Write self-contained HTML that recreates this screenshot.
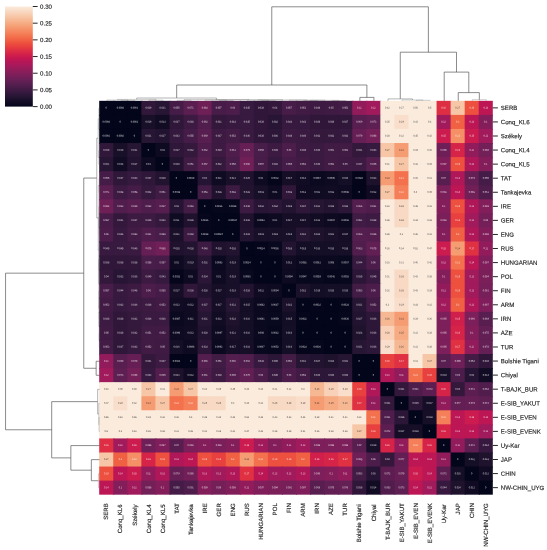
<!DOCTYPE html>
<html lang="en"><head><meta charset="utf-8"><title>Clustermap</title>
<style>html,body{margin:0;padding:0;background:#fff}body{width:547px;height:550px;overflow:hidden}svg{display:block}text{font-family:"Liberation Sans",Arial,sans-serif;text-rendering:geometricPrecision}</style>
</head><body>
<svg width="547" height="550" viewBox="0 0 547 550">
<rect width="547" height="550" fill="#fff"/>
<defs><linearGradient id="cb" x1="0" y1="0" x2="0" y2="1"><stop offset="0.0000" stop-color="#faebdd"/><stop offset="0.0312" stop-color="#f9dfcb"/><stop offset="0.0625" stop-color="#f8d4bc"/><stop offset="0.0938" stop-color="#f7c9aa"/><stop offset="0.1250" stop-color="#f6bc99"/><stop offset="0.1562" stop-color="#f6b089"/><stop offset="0.1875" stop-color="#f6a37a"/><stop offset="0.2188" stop-color="#f5966c"/><stop offset="0.2500" stop-color="#f58860"/><stop offset="0.2812" stop-color="#f47a54"/><stop offset="0.3125" stop-color="#f26b49"/><stop offset="0.3438" stop-color="#f05c42"/><stop offset="0.3750" stop-color="#ec4c3e"/><stop offset="0.4062" stop-color="#e73d3f"/><stop offset="0.4375" stop-color="#df2f44"/><stop offset="0.4688" stop-color="#d62449"/><stop offset="0.5000" stop-color="#cb1b4f"/><stop offset="0.5312" stop-color="#bf1654"/><stop offset="0.5625" stop-color="#b21758"/><stop offset="0.5938" stop-color="#a4195b"/><stop offset="0.6250" stop-color="#971c5b"/><stop offset="0.6562" stop-color="#891e5b"/><stop offset="0.6875" stop-color="#7b1f59"/><stop offset="0.7188" stop-color="#6e1f57"/><stop offset="0.7500" stop-color="#611f53"/><stop offset="0.7812" stop-color="#541e4e"/><stop offset="0.8125" stop-color="#481c48"/><stop offset="0.8438" stop-color="#3c1a42"/><stop offset="0.8750" stop-color="#30173a"/><stop offset="0.9062" stop-color="#241432"/><stop offset="0.9375" stop-color="#180f29"/><stop offset="0.9688" stop-color="#0d0a21"/><stop offset="1.0000" stop-color="#03051a"/></linearGradient></defs>
<rect x="5.00" y="6.50" width="27.80" height="100.10" fill="url(#cb)"/>
<g stroke="#262626" stroke-width="1.0" fill="none">
<path d="M32.80 106.60H37.60"/>
<path d="M32.80 89.92H37.60"/>
<path d="M32.80 73.23H37.60"/>
<path d="M32.80 56.55H37.60"/>
<path d="M32.80 39.87H37.60"/>
<path d="M32.80 23.18H37.60"/>
<path d="M32.80 6.50H37.60"/>
</g>
<g font-size="6.10px" fill="#262626" stroke="#262626" stroke-width="0.15">
<text transform="translate(40.10 108.78) skewY(0.2)">0.00</text>
<text transform="translate(40.10 92.10) skewY(0.2)">0.05</text>
<text transform="translate(40.10 75.42) skewY(0.2)">0.10</text>
<text transform="translate(40.10 58.73) skewY(0.2)">0.15</text>
<text transform="translate(40.10 42.05) skewY(0.2)">0.20</text>
<text transform="translate(40.10 25.37) skewY(0.2)">0.25</text>
<text transform="translate(40.10 8.68) skewY(0.2)">0.30</text>
</g>
<g shape-rendering="auto">
<rect x="99.20" y="100.83" width="15.06" height="15.07" fill="#03051a"/>
<rect x="113.26" y="100.83" width="15.06" height="15.07" fill="#03051a"/>
<rect x="127.31" y="100.83" width="15.06" height="15.07" fill="#03051a"/>
<rect x="141.37" y="100.83" width="15.06" height="15.07" fill="#31183b"/>
<rect x="155.43" y="100.83" width="15.06" height="15.07" fill="#271534"/>
<rect x="169.49" y="100.83" width="15.06" height="15.07" fill="#451c47"/>
<rect x="183.54" y="100.83" width="15.06" height="15.07" fill="#5b1e51"/>
<rect x="197.60" y="100.83" width="15.06" height="15.07" fill="#6d1f56"/>
<rect x="211.66" y="100.83" width="15.06" height="15.07" fill="#481c48"/>
<rect x="225.71" y="100.83" width="15.06" height="15.07" fill="#4c1d4b"/>
<rect x="239.77" y="100.83" width="15.06" height="15.07" fill="#381a40"/>
<rect x="253.83" y="100.83" width="15.06" height="15.07" fill="#30173a"/>
<rect x="267.89" y="100.83" width="15.06" height="15.07" fill="#33183c"/>
<rect x="281.94" y="100.83" width="15.06" height="15.07" fill="#481c48"/>
<rect x="296.00" y="100.83" width="15.06" height="15.07" fill="#421b45"/>
<rect x="310.06" y="100.83" width="15.06" height="15.07" fill="#3c1a42"/>
<rect x="324.11" y="100.83" width="15.06" height="15.07" fill="#3f1b43"/>
<rect x="338.17" y="100.83" width="15.06" height="15.07" fill="#431c46"/>
<rect x="352.23" y="100.83" width="15.06" height="15.07" fill="#921c5b"/>
<rect x="366.29" y="100.83" width="15.06" height="15.07" fill="#a11a5b"/>
<rect x="380.34" y="100.83" width="15.06" height="15.07" fill="#faebdd"/>
<rect x="394.40" y="100.83" width="15.06" height="15.07" fill="#faebdd"/>
<rect x="408.46" y="100.83" width="15.06" height="15.07" fill="#faebdd"/>
<rect x="422.51" y="100.83" width="15.06" height="15.07" fill="#faebdd"/>
<rect x="436.57" y="100.83" width="15.06" height="15.07" fill="#de2e44"/>
<rect x="450.63" y="100.83" width="15.06" height="15.07" fill="#f7c6a6"/>
<rect x="464.69" y="100.83" width="15.06" height="15.07" fill="#ed503e"/>
<rect x="478.74" y="100.83" width="14.06" height="15.07" fill="#bd1655"/>
<rect x="99.20" y="114.90" width="15.06" height="15.07" fill="#03051a"/>
<rect x="113.26" y="114.90" width="15.06" height="15.07" fill="#03051a"/>
<rect x="127.31" y="114.90" width="15.06" height="15.07" fill="#03051a"/>
<rect x="141.37" y="114.90" width="15.06" height="15.07" fill="#180f29"/>
<rect x="155.43" y="114.90" width="15.06" height="15.07" fill="#110c24"/>
<rect x="169.49" y="114.90" width="15.06" height="15.07" fill="#2e1739"/>
<rect x="183.54" y="114.90" width="15.06" height="15.07" fill="#3c1a42"/>
<rect x="197.60" y="114.90" width="15.06" height="15.07" fill="#501d4c"/>
<rect x="211.66" y="114.90" width="15.06" height="15.07" fill="#33183c"/>
<rect x="225.71" y="114.90" width="15.06" height="15.07" fill="#37193f"/>
<rect x="239.77" y="114.90" width="15.06" height="15.07" fill="#381a40"/>
<rect x="253.83" y="114.90" width="15.06" height="15.07" fill="#30173a"/>
<rect x="267.89" y="114.90" width="15.06" height="15.07" fill="#281535"/>
<rect x="281.94" y="114.90" width="15.06" height="15.07" fill="#37193f"/>
<rect x="296.00" y="114.90" width="15.06" height="15.07" fill="#35193e"/>
<rect x="310.06" y="114.90" width="15.06" height="15.07" fill="#30173a"/>
<rect x="324.11" y="114.90" width="15.06" height="15.07" fill="#30173a"/>
<rect x="338.17" y="114.90" width="15.06" height="15.07" fill="#2e1739"/>
<rect x="352.23" y="114.90" width="15.06" height="15.07" fill="#581e4f"/>
<rect x="366.29" y="114.90" width="15.06" height="15.07" fill="#5e1f52"/>
<rect x="380.34" y="114.90" width="15.06" height="15.07" fill="#faebdd"/>
<rect x="394.40" y="114.90" width="15.06" height="15.07" fill="#f9dfcb"/>
<rect x="408.46" y="114.90" width="15.06" height="15.07" fill="#faebdd"/>
<rect x="422.51" y="114.90" width="15.06" height="15.07" fill="#faebdd"/>
<rect x="436.57" y="114.90" width="15.06" height="15.07" fill="#a11a5b"/>
<rect x="450.63" y="114.90" width="15.06" height="15.07" fill="#f06043"/>
<rect x="464.69" y="114.90" width="15.06" height="15.07" fill="#bd1655"/>
<rect x="478.74" y="114.90" width="14.06" height="15.07" fill="#841e5a"/>
<rect x="99.20" y="128.96" width="15.06" height="15.07" fill="#03051a"/>
<rect x="113.26" y="128.96" width="15.06" height="15.07" fill="#03051a"/>
<rect x="127.31" y="128.96" width="15.06" height="15.07" fill="#03051a"/>
<rect x="141.37" y="128.96" width="15.06" height="15.07" fill="#271534"/>
<rect x="155.43" y="128.96" width="15.06" height="15.07" fill="#221331"/>
<rect x="169.49" y="128.96" width="15.06" height="15.07" fill="#35193e"/>
<rect x="183.54" y="128.96" width="15.06" height="15.07" fill="#451c47"/>
<rect x="197.60" y="128.96" width="15.06" height="15.07" fill="#581e4f"/>
<rect x="211.66" y="128.96" width="15.06" height="15.07" fill="#3c1a42"/>
<rect x="225.71" y="128.96" width="15.06" height="15.07" fill="#431c46"/>
<rect x="239.77" y="128.96" width="15.06" height="15.07" fill="#3a1a41"/>
<rect x="253.83" y="128.96" width="15.06" height="15.07" fill="#30173a"/>
<rect x="267.89" y="128.96" width="15.06" height="15.07" fill="#2d1738"/>
<rect x="281.94" y="128.96" width="15.06" height="15.07" fill="#3c1a42"/>
<rect x="296.00" y="128.96" width="15.06" height="15.07" fill="#3a1a41"/>
<rect x="310.06" y="128.96" width="15.06" height="15.07" fill="#34193d"/>
<rect x="324.11" y="128.96" width="15.06" height="15.07" fill="#34193d"/>
<rect x="338.17" y="128.96" width="15.06" height="15.07" fill="#35193e"/>
<rect x="352.23" y="128.96" width="15.06" height="15.07" fill="#661f54"/>
<rect x="366.29" y="128.96" width="15.06" height="15.07" fill="#731f58"/>
<rect x="380.34" y="128.96" width="15.06" height="15.07" fill="#faebdd"/>
<rect x="394.40" y="128.96" width="15.06" height="15.07" fill="#faebdd"/>
<rect x="408.46" y="128.96" width="15.06" height="15.07" fill="#faebdd"/>
<rect x="422.51" y="128.96" width="15.06" height="15.07" fill="#faebdd"/>
<rect x="436.57" y="128.96" width="15.06" height="15.07" fill="#cb1b4f"/>
<rect x="450.63" y="128.96" width="15.06" height="15.07" fill="#f58f66"/>
<rect x="464.69" y="128.96" width="15.06" height="15.07" fill="#cb1b4f"/>
<rect x="478.74" y="128.96" width="14.06" height="15.07" fill="#a11a5b"/>
<rect x="99.20" y="143.03" width="15.06" height="15.07" fill="#31183b"/>
<rect x="113.26" y="143.03" width="15.06" height="15.07" fill="#180f29"/>
<rect x="127.31" y="143.03" width="15.06" height="15.07" fill="#271534"/>
<rect x="141.37" y="143.03" width="15.06" height="15.07" fill="#03051a"/>
<rect x="155.43" y="143.03" width="15.06" height="15.07" fill="#0d0a21"/>
<rect x="169.49" y="143.03" width="15.06" height="15.07" fill="#2e1739"/>
<rect x="183.54" y="143.03" width="15.06" height="15.07" fill="#34193d"/>
<rect x="197.60" y="143.03" width="15.06" height="15.07" fill="#4e1d4b"/>
<rect x="211.66" y="143.03" width="15.06" height="15.07" fill="#3d1a42"/>
<rect x="225.71" y="143.03" width="15.06" height="15.07" fill="#4e1d4b"/>
<rect x="239.77" y="143.03" width="15.06" height="15.07" fill="#661f54"/>
<rect x="253.83" y="143.03" width="15.06" height="15.07" fill="#491d49"/>
<rect x="267.89" y="143.03" width="15.06" height="15.07" fill="#3d1a42"/>
<rect x="281.94" y="143.03" width="15.06" height="15.07" fill="#4c1d4b"/>
<rect x="296.00" y="143.03" width="15.06" height="15.07" fill="#3c1a42"/>
<rect x="310.06" y="143.03" width="15.06" height="15.07" fill="#3a1a41"/>
<rect x="324.11" y="143.03" width="15.06" height="15.07" fill="#401b44"/>
<rect x="338.17" y="143.03" width="15.06" height="15.07" fill="#421b45"/>
<rect x="352.23" y="143.03" width="15.06" height="15.07" fill="#33183c"/>
<rect x="366.29" y="143.03" width="15.06" height="15.07" fill="#35193e"/>
<rect x="380.34" y="143.03" width="15.06" height="15.07" fill="#f7c6a6"/>
<rect x="394.40" y="143.03" width="15.06" height="15.07" fill="#f69c73"/>
<rect x="408.46" y="143.03" width="15.06" height="15.07" fill="#faebdd"/>
<rect x="422.51" y="143.03" width="15.06" height="15.07" fill="#faebdd"/>
<rect x="436.57" y="143.03" width="15.06" height="15.07" fill="#6e1f57"/>
<rect x="450.63" y="143.03" width="15.06" height="15.07" fill="#d62449"/>
<rect x="464.69" y="143.03" width="15.06" height="15.07" fill="#921c5b"/>
<rect x="478.74" y="143.03" width="14.06" height="15.07" fill="#731f58"/>
<rect x="99.20" y="157.09" width="15.06" height="15.07" fill="#271534"/>
<rect x="113.26" y="157.09" width="15.06" height="15.07" fill="#110c24"/>
<rect x="127.31" y="157.09" width="15.06" height="15.07" fill="#221331"/>
<rect x="141.37" y="157.09" width="15.06" height="15.07" fill="#0d0a21"/>
<rect x="155.43" y="157.09" width="15.06" height="15.07" fill="#03051a"/>
<rect x="169.49" y="157.09" width="15.06" height="15.07" fill="#221331"/>
<rect x="183.54" y="157.09" width="15.06" height="15.07" fill="#401b44"/>
<rect x="197.60" y="157.09" width="15.06" height="15.07" fill="#561e4f"/>
<rect x="211.66" y="157.09" width="15.06" height="15.07" fill="#34193d"/>
<rect x="225.71" y="157.09" width="15.06" height="15.07" fill="#491d49"/>
<rect x="239.77" y="157.09" width="15.06" height="15.07" fill="#701f57"/>
<rect x="253.83" y="157.09" width="15.06" height="15.07" fill="#481c48"/>
<rect x="267.89" y="157.09" width="15.06" height="15.07" fill="#35193e"/>
<rect x="281.94" y="157.09" width="15.06" height="15.07" fill="#451c47"/>
<rect x="296.00" y="157.09" width="15.06" height="15.07" fill="#421b45"/>
<rect x="310.06" y="157.09" width="15.06" height="15.07" fill="#3a1a41"/>
<rect x="324.11" y="157.09" width="15.06" height="15.07" fill="#421b45"/>
<rect x="338.17" y="157.09" width="15.06" height="15.07" fill="#3f1b43"/>
<rect x="352.23" y="157.09" width="15.06" height="15.07" fill="#3c1a42"/>
<rect x="366.29" y="157.09" width="15.06" height="15.07" fill="#531e4d"/>
<rect x="380.34" y="157.09" width="15.06" height="15.07" fill="#faebdd"/>
<rect x="394.40" y="157.09" width="15.06" height="15.07" fill="#f7c6a6"/>
<rect x="408.46" y="157.09" width="15.06" height="15.07" fill="#faebdd"/>
<rect x="422.51" y="157.09" width="15.06" height="15.07" fill="#faebdd"/>
<rect x="436.57" y="157.09" width="15.06" height="15.07" fill="#7f1e5a"/>
<rect x="450.63" y="157.09" width="15.06" height="15.07" fill="#ed503e"/>
<rect x="464.69" y="157.09" width="15.06" height="15.07" fill="#af1759"/>
<rect x="478.74" y="157.09" width="14.06" height="15.07" fill="#841e5a"/>
<rect x="99.20" y="171.16" width="15.06" height="15.07" fill="#451c47"/>
<rect x="113.26" y="171.16" width="15.06" height="15.07" fill="#2e1739"/>
<rect x="127.31" y="171.16" width="15.06" height="15.07" fill="#35193e"/>
<rect x="141.37" y="171.16" width="15.06" height="15.07" fill="#2e1739"/>
<rect x="155.43" y="171.16" width="15.06" height="15.07" fill="#221331"/>
<rect x="169.49" y="171.16" width="15.06" height="15.07" fill="#03051a"/>
<rect x="183.54" y="171.16" width="15.06" height="15.07" fill="#04051a"/>
<rect x="197.60" y="171.16" width="15.06" height="15.07" fill="#251433"/>
<rect x="211.66" y="171.16" width="15.06" height="15.07" fill="#0e0b22"/>
<rect x="225.71" y="171.16" width="15.06" height="15.07" fill="#1a102a"/>
<rect x="239.77" y="171.16" width="15.06" height="15.07" fill="#20122e"/>
<rect x="253.83" y="171.16" width="15.06" height="15.07" fill="#0d0a21"/>
<rect x="267.89" y="171.16" width="15.06" height="15.07" fill="#05061b"/>
<rect x="281.94" y="171.16" width="15.06" height="15.07" fill="#160e27"/>
<rect x="296.00" y="171.16" width="15.06" height="15.07" fill="#110c24"/>
<rect x="310.06" y="171.16" width="15.06" height="15.07" fill="#0b0920"/>
<rect x="324.11" y="171.16" width="15.06" height="15.07" fill="#0d0a21"/>
<rect x="338.17" y="171.16" width="15.06" height="15.07" fill="#140e26"/>
<rect x="352.23" y="171.16" width="15.06" height="15.07" fill="#04051a"/>
<rect x="366.29" y="171.16" width="15.06" height="15.07" fill="#1d112c"/>
<rect x="380.34" y="171.16" width="15.06" height="15.07" fill="#f69c73"/>
<rect x="394.40" y="171.16" width="15.06" height="15.07" fill="#f3714d"/>
<rect x="408.46" y="171.16" width="15.06" height="15.07" fill="#faebdd"/>
<rect x="422.51" y="171.16" width="15.06" height="15.07" fill="#faebdd"/>
<rect x="436.57" y="171.16" width="15.06" height="15.07" fill="#591e50"/>
<rect x="450.63" y="171.16" width="15.06" height="15.07" fill="#af1759"/>
<rect x="464.69" y="171.16" width="15.06" height="15.07" fill="#661f54"/>
<rect x="478.74" y="171.16" width="14.06" height="15.07" fill="#451c47"/>
<rect x="99.20" y="185.23" width="15.06" height="15.07" fill="#5b1e51"/>
<rect x="113.26" y="185.23" width="15.06" height="15.07" fill="#3c1a42"/>
<rect x="127.31" y="185.23" width="15.06" height="15.07" fill="#451c47"/>
<rect x="141.37" y="185.23" width="15.06" height="15.07" fill="#34193d"/>
<rect x="155.43" y="185.23" width="15.06" height="15.07" fill="#401b44"/>
<rect x="169.49" y="185.23" width="15.06" height="15.07" fill="#04051a"/>
<rect x="183.54" y="185.23" width="15.06" height="15.07" fill="#03051a"/>
<rect x="197.60" y="185.23" width="15.06" height="15.07" fill="#431c46"/>
<rect x="211.66" y="185.23" width="15.06" height="15.07" fill="#20122e"/>
<rect x="225.71" y="185.23" width="15.06" height="15.07" fill="#3c1a42"/>
<rect x="239.77" y="185.23" width="15.06" height="15.07" fill="#221331"/>
<rect x="253.83" y="185.23" width="15.06" height="15.07" fill="#180f29"/>
<rect x="267.89" y="185.23" width="15.06" height="15.07" fill="#0d0a21"/>
<rect x="281.94" y="185.23" width="15.06" height="15.07" fill="#30173a"/>
<rect x="296.00" y="185.23" width="15.06" height="15.07" fill="#100b23"/>
<rect x="310.06" y="185.23" width="15.06" height="15.07" fill="#0e0b22"/>
<rect x="324.11" y="185.23" width="15.06" height="15.07" fill="#110c24"/>
<rect x="338.17" y="185.23" width="15.06" height="15.07" fill="#0d0a21"/>
<rect x="352.23" y="185.23" width="15.06" height="15.07" fill="#03051a"/>
<rect x="366.29" y="185.23" width="15.06" height="15.07" fill="#100b23"/>
<rect x="380.34" y="185.23" width="15.06" height="15.07" fill="#f7c6a6"/>
<rect x="394.40" y="185.23" width="15.06" height="15.07" fill="#f47f58"/>
<rect x="408.46" y="185.23" width="15.06" height="15.07" fill="#faebdd"/>
<rect x="422.51" y="185.23" width="15.06" height="15.07" fill="#faebdd"/>
<rect x="436.57" y="185.23" width="15.06" height="15.07" fill="#7a1f59"/>
<rect x="450.63" y="185.23" width="15.06" height="15.07" fill="#bd1655"/>
<rect x="464.69" y="185.23" width="15.06" height="15.07" fill="#701f57"/>
<rect x="478.74" y="185.23" width="14.06" height="15.07" fill="#4e1d4b"/>
<rect x="99.20" y="199.29" width="15.06" height="15.07" fill="#6d1f56"/>
<rect x="113.26" y="199.29" width="15.06" height="15.07" fill="#501d4c"/>
<rect x="127.31" y="199.29" width="15.06" height="15.07" fill="#581e4f"/>
<rect x="141.37" y="199.29" width="15.06" height="15.07" fill="#4e1d4b"/>
<rect x="155.43" y="199.29" width="15.06" height="15.07" fill="#561e4f"/>
<rect x="169.49" y="199.29" width="15.06" height="15.07" fill="#251433"/>
<rect x="183.54" y="199.29" width="15.06" height="15.07" fill="#431c46"/>
<rect x="197.60" y="199.29" width="15.06" height="15.07" fill="#03051a"/>
<rect x="211.66" y="199.29" width="15.06" height="15.07" fill="#06071c"/>
<rect x="225.71" y="199.29" width="15.06" height="15.07" fill="#06071c"/>
<rect x="239.77" y="199.29" width="15.06" height="15.07" fill="#3c1a42"/>
<rect x="253.83" y="199.29" width="15.06" height="15.07" fill="#281535"/>
<rect x="267.89" y="199.29" width="15.06" height="15.07" fill="#2b1637"/>
<rect x="281.94" y="199.29" width="15.06" height="15.07" fill="#221331"/>
<rect x="296.00" y="199.29" width="15.06" height="15.07" fill="#2e1739"/>
<rect x="310.06" y="199.29" width="15.06" height="15.07" fill="#271534"/>
<rect x="324.11" y="199.29" width="15.06" height="15.07" fill="#221331"/>
<rect x="338.17" y="199.29" width="15.06" height="15.07" fill="#2b1637"/>
<rect x="352.23" y="199.29" width="15.06" height="15.07" fill="#541e4e"/>
<rect x="366.29" y="199.29" width="15.06" height="15.07" fill="#4e1d4b"/>
<rect x="380.34" y="199.29" width="15.06" height="15.07" fill="#faebdd"/>
<rect x="394.40" y="199.29" width="15.06" height="15.07" fill="#f8d9c3"/>
<rect x="408.46" y="199.29" width="15.06" height="15.07" fill="#faebdd"/>
<rect x="422.51" y="199.29" width="15.06" height="15.07" fill="#faebdd"/>
<rect x="436.57" y="199.29" width="15.06" height="15.07" fill="#841e5a"/>
<rect x="450.63" y="199.29" width="15.06" height="15.07" fill="#ed503e"/>
<rect x="464.69" y="199.29" width="15.06" height="15.07" fill="#af1759"/>
<rect x="478.74" y="199.29" width="14.06" height="15.07" fill="#821e5a"/>
<rect x="99.20" y="213.36" width="15.06" height="15.07" fill="#481c48"/>
<rect x="113.26" y="213.36" width="15.06" height="15.07" fill="#33183c"/>
<rect x="127.31" y="213.36" width="15.06" height="15.07" fill="#3c1a42"/>
<rect x="141.37" y="213.36" width="15.06" height="15.07" fill="#3d1a42"/>
<rect x="155.43" y="213.36" width="15.06" height="15.07" fill="#34193d"/>
<rect x="169.49" y="213.36" width="15.06" height="15.07" fill="#0e0b22"/>
<rect x="183.54" y="213.36" width="15.06" height="15.07" fill="#20122e"/>
<rect x="197.60" y="213.36" width="15.06" height="15.07" fill="#06071c"/>
<rect x="211.66" y="213.36" width="15.06" height="15.07" fill="#03051a"/>
<rect x="225.71" y="213.36" width="15.06" height="15.07" fill="#03051a"/>
<rect x="239.77" y="213.36" width="15.06" height="15.07" fill="#20122e"/>
<rect x="253.83" y="213.36" width="15.06" height="15.07" fill="#0b0920"/>
<rect x="267.89" y="213.36" width="15.06" height="15.07" fill="#0d0a21"/>
<rect x="281.94" y="213.36" width="15.06" height="15.07" fill="#160e27"/>
<rect x="296.00" y="213.36" width="15.06" height="15.07" fill="#160e27"/>
<rect x="310.06" y="213.36" width="15.06" height="15.07" fill="#110c24"/>
<rect x="324.11" y="213.36" width="15.06" height="15.07" fill="#0d0a21"/>
<rect x="338.17" y="213.36" width="15.06" height="15.07" fill="#0b0920"/>
<rect x="352.23" y="213.36" width="15.06" height="15.07" fill="#401b44"/>
<rect x="366.29" y="213.36" width="15.06" height="15.07" fill="#3c1a42"/>
<rect x="380.34" y="213.36" width="15.06" height="15.07" fill="#faebdd"/>
<rect x="394.40" y="213.36" width="15.06" height="15.07" fill="#f8d9c3"/>
<rect x="408.46" y="213.36" width="15.06" height="15.07" fill="#faebdd"/>
<rect x="422.51" y="213.36" width="15.06" height="15.07" fill="#faebdd"/>
<rect x="436.57" y="213.36" width="15.06" height="15.07" fill="#7a1f59"/>
<rect x="450.63" y="213.36" width="15.06" height="15.07" fill="#e83f3f"/>
<rect x="464.69" y="213.36" width="15.06" height="15.07" fill="#a11a5b"/>
<rect x="478.74" y="213.36" width="14.06" height="15.07" fill="#751f58"/>
<rect x="99.20" y="227.42" width="15.06" height="15.07" fill="#4c1d4b"/>
<rect x="113.26" y="227.42" width="15.06" height="15.07" fill="#37193f"/>
<rect x="127.31" y="227.42" width="15.06" height="15.07" fill="#431c46"/>
<rect x="141.37" y="227.42" width="15.06" height="15.07" fill="#4e1d4b"/>
<rect x="155.43" y="227.42" width="15.06" height="15.07" fill="#491d49"/>
<rect x="169.49" y="227.42" width="15.06" height="15.07" fill="#1a102a"/>
<rect x="183.54" y="227.42" width="15.06" height="15.07" fill="#3c1a42"/>
<rect x="197.60" y="227.42" width="15.06" height="15.07" fill="#06071c"/>
<rect x="211.66" y="227.42" width="15.06" height="15.07" fill="#03051a"/>
<rect x="225.71" y="227.42" width="15.06" height="15.07" fill="#03051a"/>
<rect x="239.77" y="227.42" width="15.06" height="15.07" fill="#221331"/>
<rect x="253.83" y="227.42" width="15.06" height="15.07" fill="#180f29"/>
<rect x="267.89" y="227.42" width="15.06" height="15.07" fill="#180f29"/>
<rect x="281.94" y="227.42" width="15.06" height="15.07" fill="#180f29"/>
<rect x="296.00" y="227.42" width="15.06" height="15.07" fill="#271534"/>
<rect x="310.06" y="227.42" width="15.06" height="15.07" fill="#1e122d"/>
<rect x="324.11" y="227.42" width="15.06" height="15.07" fill="#1a102a"/>
<rect x="338.17" y="227.42" width="15.06" height="15.07" fill="#160e27"/>
<rect x="352.23" y="227.42" width="15.06" height="15.07" fill="#541e4e"/>
<rect x="366.29" y="227.42" width="15.06" height="15.07" fill="#531e4d"/>
<rect x="380.34" y="227.42" width="15.06" height="15.07" fill="#faebdd"/>
<rect x="394.40" y="227.42" width="15.06" height="15.07" fill="#faebdd"/>
<rect x="408.46" y="227.42" width="15.06" height="15.07" fill="#faebdd"/>
<rect x="422.51" y="227.42" width="15.06" height="15.07" fill="#faebdd"/>
<rect x="436.57" y="227.42" width="15.06" height="15.07" fill="#841e5a"/>
<rect x="450.63" y="227.42" width="15.06" height="15.07" fill="#f06043"/>
<rect x="464.69" y="227.42" width="15.06" height="15.07" fill="#af1759"/>
<rect x="478.74" y="227.42" width="14.06" height="15.07" fill="#811e5a"/>
<rect x="99.20" y="241.49" width="15.06" height="15.07" fill="#381a40"/>
<rect x="113.26" y="241.49" width="15.06" height="15.07" fill="#381a40"/>
<rect x="127.31" y="241.49" width="15.06" height="15.07" fill="#3a1a41"/>
<rect x="141.37" y="241.49" width="15.06" height="15.07" fill="#661f54"/>
<rect x="155.43" y="241.49" width="15.06" height="15.07" fill="#701f57"/>
<rect x="169.49" y="241.49" width="15.06" height="15.07" fill="#20122e"/>
<rect x="183.54" y="241.49" width="15.06" height="15.07" fill="#221331"/>
<rect x="197.60" y="241.49" width="15.06" height="15.07" fill="#3c1a42"/>
<rect x="211.66" y="241.49" width="15.06" height="15.07" fill="#20122e"/>
<rect x="225.71" y="241.49" width="15.06" height="15.07" fill="#221331"/>
<rect x="239.77" y="241.49" width="15.06" height="15.07" fill="#03051a"/>
<rect x="253.83" y="241.49" width="15.06" height="15.07" fill="#05061b"/>
<rect x="267.89" y="241.49" width="15.06" height="15.07" fill="#08081e"/>
<rect x="281.94" y="241.49" width="15.06" height="15.07" fill="#221331"/>
<rect x="296.00" y="241.49" width="15.06" height="15.07" fill="#130d25"/>
<rect x="310.06" y="241.49" width="15.06" height="15.07" fill="#140e26"/>
<rect x="324.11" y="241.49" width="15.06" height="15.07" fill="#140e26"/>
<rect x="338.17" y="241.49" width="15.06" height="15.07" fill="#170f28"/>
<rect x="352.23" y="241.49" width="15.06" height="15.07" fill="#501d4c"/>
<rect x="366.29" y="241.49" width="15.06" height="15.07" fill="#611f53"/>
<rect x="380.34" y="241.49" width="15.06" height="15.07" fill="#faebdd"/>
<rect x="394.40" y="241.49" width="15.06" height="15.07" fill="#faebdd"/>
<rect x="408.46" y="241.49" width="15.06" height="15.07" fill="#faebdd"/>
<rect x="422.51" y="241.49" width="15.06" height="15.07" fill="#faebdd"/>
<rect x="436.57" y="241.49" width="15.06" height="15.07" fill="#cb1b4f"/>
<rect x="450.63" y="241.49" width="15.06" height="15.07" fill="#f69c73"/>
<rect x="464.69" y="241.49" width="15.06" height="15.07" fill="#e03143"/>
<rect x="478.74" y="241.49" width="14.06" height="15.07" fill="#921c5b"/>
<rect x="99.20" y="255.56" width="15.06" height="15.07" fill="#30173a"/>
<rect x="113.26" y="255.56" width="15.06" height="15.07" fill="#30173a"/>
<rect x="127.31" y="255.56" width="15.06" height="15.07" fill="#30173a"/>
<rect x="141.37" y="255.56" width="15.06" height="15.07" fill="#491d49"/>
<rect x="155.43" y="255.56" width="15.06" height="15.07" fill="#481c48"/>
<rect x="169.49" y="255.56" width="15.06" height="15.07" fill="#0d0a21"/>
<rect x="183.54" y="255.56" width="15.06" height="15.07" fill="#180f29"/>
<rect x="197.60" y="255.56" width="15.06" height="15.07" fill="#281535"/>
<rect x="211.66" y="255.56" width="15.06" height="15.07" fill="#0b0920"/>
<rect x="225.71" y="255.56" width="15.06" height="15.07" fill="#180f29"/>
<rect x="239.77" y="255.56" width="15.06" height="15.07" fill="#05061b"/>
<rect x="253.83" y="255.56" width="15.06" height="15.07" fill="#03051a"/>
<rect x="267.89" y="255.56" width="15.06" height="15.07" fill="#03051a"/>
<rect x="281.94" y="255.56" width="15.06" height="15.07" fill="#100b23"/>
<rect x="296.00" y="255.56" width="15.06" height="15.07" fill="#0a091f"/>
<rect x="310.06" y="255.56" width="15.06" height="15.07" fill="#0a091f"/>
<rect x="324.11" y="255.56" width="15.06" height="15.07" fill="#0a091f"/>
<rect x="338.17" y="255.56" width="15.06" height="15.07" fill="#08081e"/>
<rect x="352.23" y="255.56" width="15.06" height="15.07" fill="#37193f"/>
<rect x="366.29" y="255.56" width="15.06" height="15.07" fill="#4c1d4b"/>
<rect x="380.34" y="255.56" width="15.06" height="15.07" fill="#faebdd"/>
<rect x="394.40" y="255.56" width="15.06" height="15.07" fill="#faebdd"/>
<rect x="408.46" y="255.56" width="15.06" height="15.07" fill="#faebdd"/>
<rect x="422.51" y="255.56" width="15.06" height="15.07" fill="#faebdd"/>
<rect x="436.57" y="255.56" width="15.06" height="15.07" fill="#a11a5b"/>
<rect x="450.63" y="255.56" width="15.06" height="15.07" fill="#f3714d"/>
<rect x="464.69" y="255.56" width="15.06" height="15.07" fill="#bd1655"/>
<rect x="478.74" y="255.56" width="14.06" height="15.07" fill="#7f1e5a"/>
<rect x="99.20" y="269.62" width="15.06" height="15.07" fill="#33183c"/>
<rect x="113.26" y="269.62" width="15.06" height="15.07" fill="#281535"/>
<rect x="127.31" y="269.62" width="15.06" height="15.07" fill="#2d1738"/>
<rect x="141.37" y="269.62" width="15.06" height="15.07" fill="#3d1a42"/>
<rect x="155.43" y="269.62" width="15.06" height="15.07" fill="#35193e"/>
<rect x="169.49" y="269.62" width="15.06" height="15.07" fill="#05061b"/>
<rect x="183.54" y="269.62" width="15.06" height="15.07" fill="#0d0a21"/>
<rect x="197.60" y="269.62" width="15.06" height="15.07" fill="#2b1637"/>
<rect x="211.66" y="269.62" width="15.06" height="15.07" fill="#0d0a21"/>
<rect x="225.71" y="269.62" width="15.06" height="15.07" fill="#180f29"/>
<rect x="239.77" y="269.62" width="15.06" height="15.07" fill="#08081e"/>
<rect x="253.83" y="269.62" width="15.06" height="15.07" fill="#03051a"/>
<rect x="267.89" y="269.62" width="15.06" height="15.07" fill="#03051a"/>
<rect x="281.94" y="269.62" width="15.06" height="15.07" fill="#0d0a21"/>
<rect x="296.00" y="269.62" width="15.06" height="15.07" fill="#07071d"/>
<rect x="310.06" y="269.62" width="15.06" height="15.07" fill="#08081e"/>
<rect x="324.11" y="269.62" width="15.06" height="15.07" fill="#06071c"/>
<rect x="338.17" y="269.62" width="15.06" height="15.07" fill="#07071d"/>
<rect x="352.23" y="269.62" width="15.06" height="15.07" fill="#2b1637"/>
<rect x="366.29" y="269.62" width="15.06" height="15.07" fill="#381a40"/>
<rect x="380.34" y="269.62" width="15.06" height="15.07" fill="#faebdd"/>
<rect x="394.40" y="269.62" width="15.06" height="15.07" fill="#f8d9c3"/>
<rect x="408.46" y="269.62" width="15.06" height="15.07" fill="#faebdd"/>
<rect x="422.51" y="269.62" width="15.06" height="15.07" fill="#faebdd"/>
<rect x="436.57" y="269.62" width="15.06" height="15.07" fill="#841e5a"/>
<rect x="450.63" y="269.62" width="15.06" height="15.07" fill="#ed503e"/>
<rect x="464.69" y="269.62" width="15.06" height="15.07" fill="#a11a5b"/>
<rect x="478.74" y="269.62" width="14.06" height="15.07" fill="#7b1f59"/>
<rect x="99.20" y="283.69" width="15.06" height="15.07" fill="#481c48"/>
<rect x="113.26" y="283.69" width="15.06" height="15.07" fill="#37193f"/>
<rect x="127.31" y="283.69" width="15.06" height="15.07" fill="#3c1a42"/>
<rect x="141.37" y="283.69" width="15.06" height="15.07" fill="#4c1d4b"/>
<rect x="155.43" y="283.69" width="15.06" height="15.07" fill="#451c47"/>
<rect x="169.49" y="283.69" width="15.06" height="15.07" fill="#160e27"/>
<rect x="183.54" y="283.69" width="15.06" height="15.07" fill="#30173a"/>
<rect x="197.60" y="283.69" width="15.06" height="15.07" fill="#221331"/>
<rect x="211.66" y="283.69" width="15.06" height="15.07" fill="#160e27"/>
<rect x="225.71" y="283.69" width="15.06" height="15.07" fill="#180f29"/>
<rect x="239.77" y="283.69" width="15.06" height="15.07" fill="#221331"/>
<rect x="253.83" y="283.69" width="15.06" height="15.07" fill="#100b23"/>
<rect x="267.89" y="283.69" width="15.06" height="15.07" fill="#0d0a21"/>
<rect x="281.94" y="283.69" width="15.06" height="15.07" fill="#03051a"/>
<rect x="296.00" y="283.69" width="15.06" height="15.07" fill="#1b112b"/>
<rect x="310.06" y="283.69" width="15.06" height="15.07" fill="#130d25"/>
<rect x="324.11" y="283.69" width="15.06" height="15.07" fill="#140e26"/>
<rect x="338.17" y="283.69" width="15.06" height="15.07" fill="#140e26"/>
<rect x="352.23" y="283.69" width="15.06" height="15.07" fill="#431c46"/>
<rect x="366.29" y="283.69" width="15.06" height="15.07" fill="#4c1d4b"/>
<rect x="380.34" y="283.69" width="15.06" height="15.07" fill="#faebdd"/>
<rect x="394.40" y="283.69" width="15.06" height="15.07" fill="#f8d9c3"/>
<rect x="408.46" y="283.69" width="15.06" height="15.07" fill="#faebdd"/>
<rect x="422.51" y="283.69" width="15.06" height="15.07" fill="#faebdd"/>
<rect x="436.57" y="283.69" width="15.06" height="15.07" fill="#921c5b"/>
<rect x="450.63" y="283.69" width="15.06" height="15.07" fill="#ed503e"/>
<rect x="464.69" y="283.69" width="15.06" height="15.07" fill="#a11a5b"/>
<rect x="478.74" y="283.69" width="14.06" height="15.07" fill="#761f58"/>
<rect x="99.20" y="297.75" width="15.06" height="15.07" fill="#421b45"/>
<rect x="113.26" y="297.75" width="15.06" height="15.07" fill="#35193e"/>
<rect x="127.31" y="297.75" width="15.06" height="15.07" fill="#3a1a41"/>
<rect x="141.37" y="297.75" width="15.06" height="15.07" fill="#3c1a42"/>
<rect x="155.43" y="297.75" width="15.06" height="15.07" fill="#421b45"/>
<rect x="169.49" y="297.75" width="15.06" height="15.07" fill="#110c24"/>
<rect x="183.54" y="297.75" width="15.06" height="15.07" fill="#100b23"/>
<rect x="197.60" y="297.75" width="15.06" height="15.07" fill="#2e1739"/>
<rect x="211.66" y="297.75" width="15.06" height="15.07" fill="#160e27"/>
<rect x="225.71" y="297.75" width="15.06" height="15.07" fill="#271534"/>
<rect x="239.77" y="297.75" width="15.06" height="15.07" fill="#130d25"/>
<rect x="253.83" y="297.75" width="15.06" height="15.07" fill="#0a091f"/>
<rect x="267.89" y="297.75" width="15.06" height="15.07" fill="#07071d"/>
<rect x="281.94" y="297.75" width="15.06" height="15.07" fill="#1b112b"/>
<rect x="296.00" y="297.75" width="15.06" height="15.07" fill="#03051a"/>
<rect x="310.06" y="297.75" width="15.06" height="15.07" fill="#05061b"/>
<rect x="324.11" y="297.75" width="15.06" height="15.07" fill="#03051a"/>
<rect x="338.17" y="297.75" width="15.06" height="15.07" fill="#05061b"/>
<rect x="352.23" y="297.75" width="15.06" height="15.07" fill="#271534"/>
<rect x="366.29" y="297.75" width="15.06" height="15.07" fill="#421b45"/>
<rect x="380.34" y="297.75" width="15.06" height="15.07" fill="#faebdd"/>
<rect x="394.40" y="297.75" width="15.06" height="15.07" fill="#f9dfcb"/>
<rect x="408.46" y="297.75" width="15.06" height="15.07" fill="#faebdd"/>
<rect x="422.51" y="297.75" width="15.06" height="15.07" fill="#faebdd"/>
<rect x="436.57" y="297.75" width="15.06" height="15.07" fill="#a11a5b"/>
<rect x="450.63" y="297.75" width="15.06" height="15.07" fill="#f06043"/>
<rect x="464.69" y="297.75" width="15.06" height="15.07" fill="#af1759"/>
<rect x="478.74" y="297.75" width="14.06" height="15.07" fill="#7f1e5a"/>
<rect x="99.20" y="311.82" width="15.06" height="15.07" fill="#3c1a42"/>
<rect x="113.26" y="311.82" width="15.06" height="15.07" fill="#30173a"/>
<rect x="127.31" y="311.82" width="15.06" height="15.07" fill="#34193d"/>
<rect x="141.37" y="311.82" width="15.06" height="15.07" fill="#3a1a41"/>
<rect x="155.43" y="311.82" width="15.06" height="15.07" fill="#3a1a41"/>
<rect x="169.49" y="311.82" width="15.06" height="15.07" fill="#0b0920"/>
<rect x="183.54" y="311.82" width="15.06" height="15.07" fill="#0e0b22"/>
<rect x="197.60" y="311.82" width="15.06" height="15.07" fill="#271534"/>
<rect x="211.66" y="311.82" width="15.06" height="15.07" fill="#110c24"/>
<rect x="225.71" y="311.82" width="15.06" height="15.07" fill="#1e122d"/>
<rect x="239.77" y="311.82" width="15.06" height="15.07" fill="#140e26"/>
<rect x="253.83" y="311.82" width="15.06" height="15.07" fill="#0a091f"/>
<rect x="267.89" y="311.82" width="15.06" height="15.07" fill="#08081e"/>
<rect x="281.94" y="311.82" width="15.06" height="15.07" fill="#130d25"/>
<rect x="296.00" y="311.82" width="15.06" height="15.07" fill="#05061b"/>
<rect x="310.06" y="311.82" width="15.06" height="15.07" fill="#03051a"/>
<rect x="324.11" y="311.82" width="15.06" height="15.07" fill="#03051a"/>
<rect x="338.17" y="311.82" width="15.06" height="15.07" fill="#06071c"/>
<rect x="352.23" y="311.82" width="15.06" height="15.07" fill="#221331"/>
<rect x="366.29" y="311.82" width="15.06" height="15.07" fill="#2d1738"/>
<rect x="380.34" y="311.82" width="15.06" height="15.07" fill="#f6b893"/>
<rect x="394.40" y="311.82" width="15.06" height="15.07" fill="#f69c73"/>
<rect x="408.46" y="311.82" width="15.06" height="15.07" fill="#faebdd"/>
<rect x="422.51" y="311.82" width="15.06" height="15.07" fill="#faebdd"/>
<rect x="436.57" y="311.82" width="15.06" height="15.07" fill="#7d1f5a"/>
<rect x="450.63" y="311.82" width="15.06" height="15.07" fill="#d11f4c"/>
<rect x="464.69" y="311.82" width="15.06" height="15.07" fill="#7d1f5a"/>
<rect x="478.74" y="311.82" width="14.06" height="15.07" fill="#581e4f"/>
<rect x="99.20" y="325.89" width="15.06" height="15.07" fill="#3f1b43"/>
<rect x="113.26" y="325.89" width="15.06" height="15.07" fill="#30173a"/>
<rect x="127.31" y="325.89" width="15.06" height="15.07" fill="#34193d"/>
<rect x="141.37" y="325.89" width="15.06" height="15.07" fill="#401b44"/>
<rect x="155.43" y="325.89" width="15.06" height="15.07" fill="#421b45"/>
<rect x="169.49" y="325.89" width="15.06" height="15.07" fill="#0d0a21"/>
<rect x="183.54" y="325.89" width="15.06" height="15.07" fill="#110c24"/>
<rect x="197.60" y="325.89" width="15.06" height="15.07" fill="#221331"/>
<rect x="211.66" y="325.89" width="15.06" height="15.07" fill="#0d0a21"/>
<rect x="225.71" y="325.89" width="15.06" height="15.07" fill="#1a102a"/>
<rect x="239.77" y="325.89" width="15.06" height="15.07" fill="#140e26"/>
<rect x="253.83" y="325.89" width="15.06" height="15.07" fill="#0a091f"/>
<rect x="267.89" y="325.89" width="15.06" height="15.07" fill="#06071c"/>
<rect x="281.94" y="325.89" width="15.06" height="15.07" fill="#140e26"/>
<rect x="296.00" y="325.89" width="15.06" height="15.07" fill="#03051a"/>
<rect x="310.06" y="325.89" width="15.06" height="15.07" fill="#03051a"/>
<rect x="324.11" y="325.89" width="15.06" height="15.07" fill="#03051a"/>
<rect x="338.17" y="325.89" width="15.06" height="15.07" fill="#03051a"/>
<rect x="352.23" y="325.89" width="15.06" height="15.07" fill="#1e122d"/>
<rect x="366.29" y="325.89" width="15.06" height="15.07" fill="#2d1738"/>
<rect x="380.34" y="325.89" width="15.06" height="15.07" fill="#f8d1b8"/>
<rect x="394.40" y="325.89" width="15.06" height="15.07" fill="#f6ab83"/>
<rect x="408.46" y="325.89" width="15.06" height="15.07" fill="#faebdd"/>
<rect x="422.51" y="325.89" width="15.06" height="15.07" fill="#faebdd"/>
<rect x="436.57" y="325.89" width="15.06" height="15.07" fill="#7d1f5a"/>
<rect x="450.63" y="325.89" width="15.06" height="15.07" fill="#d62449"/>
<rect x="464.69" y="325.89" width="15.06" height="15.07" fill="#841e5a"/>
<rect x="478.74" y="325.89" width="14.06" height="15.07" fill="#611f53"/>
<rect x="99.20" y="339.95" width="15.06" height="15.07" fill="#431c46"/>
<rect x="113.26" y="339.95" width="15.06" height="15.07" fill="#2e1739"/>
<rect x="127.31" y="339.95" width="15.06" height="15.07" fill="#35193e"/>
<rect x="141.37" y="339.95" width="15.06" height="15.07" fill="#421b45"/>
<rect x="155.43" y="339.95" width="15.06" height="15.07" fill="#3f1b43"/>
<rect x="169.49" y="339.95" width="15.06" height="15.07" fill="#140e26"/>
<rect x="183.54" y="339.95" width="15.06" height="15.07" fill="#0d0a21"/>
<rect x="197.60" y="339.95" width="15.06" height="15.07" fill="#2b1637"/>
<rect x="211.66" y="339.95" width="15.06" height="15.07" fill="#0b0920"/>
<rect x="225.71" y="339.95" width="15.06" height="15.07" fill="#160e27"/>
<rect x="239.77" y="339.95" width="15.06" height="15.07" fill="#170f28"/>
<rect x="253.83" y="339.95" width="15.06" height="15.07" fill="#08081e"/>
<rect x="267.89" y="339.95" width="15.06" height="15.07" fill="#07071d"/>
<rect x="281.94" y="339.95" width="15.06" height="15.07" fill="#140e26"/>
<rect x="296.00" y="339.95" width="15.06" height="15.07" fill="#05061b"/>
<rect x="310.06" y="339.95" width="15.06" height="15.07" fill="#06071c"/>
<rect x="324.11" y="339.95" width="15.06" height="15.07" fill="#03051a"/>
<rect x="338.17" y="339.95" width="15.06" height="15.07" fill="#03051a"/>
<rect x="352.23" y="339.95" width="15.06" height="15.07" fill="#271534"/>
<rect x="366.29" y="339.95" width="15.06" height="15.07" fill="#2d1738"/>
<rect x="380.34" y="339.95" width="15.06" height="15.07" fill="#f9dfcb"/>
<rect x="394.40" y="339.95" width="15.06" height="15.07" fill="#f6b893"/>
<rect x="408.46" y="339.95" width="15.06" height="15.07" fill="#faebdd"/>
<rect x="422.51" y="339.95" width="15.06" height="15.07" fill="#faebdd"/>
<rect x="436.57" y="339.95" width="15.06" height="15.07" fill="#7d1f5a"/>
<rect x="450.63" y="339.95" width="15.06" height="15.07" fill="#e03143"/>
<rect x="464.69" y="339.95" width="15.06" height="15.07" fill="#921c5b"/>
<rect x="478.74" y="339.95" width="14.06" height="15.07" fill="#641f54"/>
<rect x="99.20" y="354.02" width="15.06" height="15.07" fill="#921c5b"/>
<rect x="113.26" y="354.02" width="15.06" height="15.07" fill="#581e4f"/>
<rect x="127.31" y="354.02" width="15.06" height="15.07" fill="#661f54"/>
<rect x="141.37" y="354.02" width="15.06" height="15.07" fill="#33183c"/>
<rect x="155.43" y="354.02" width="15.06" height="15.07" fill="#3c1a42"/>
<rect x="169.49" y="354.02" width="15.06" height="15.07" fill="#04051a"/>
<rect x="183.54" y="354.02" width="15.06" height="15.07" fill="#03051a"/>
<rect x="197.60" y="354.02" width="15.06" height="15.07" fill="#541e4e"/>
<rect x="211.66" y="354.02" width="15.06" height="15.07" fill="#401b44"/>
<rect x="225.71" y="354.02" width="15.06" height="15.07" fill="#541e4e"/>
<rect x="239.77" y="354.02" width="15.06" height="15.07" fill="#501d4c"/>
<rect x="253.83" y="354.02" width="15.06" height="15.07" fill="#37193f"/>
<rect x="267.89" y="354.02" width="15.06" height="15.07" fill="#2b1637"/>
<rect x="281.94" y="354.02" width="15.06" height="15.07" fill="#431c46"/>
<rect x="296.00" y="354.02" width="15.06" height="15.07" fill="#271534"/>
<rect x="310.06" y="354.02" width="15.06" height="15.07" fill="#221331"/>
<rect x="324.11" y="354.02" width="15.06" height="15.07" fill="#1e122d"/>
<rect x="338.17" y="354.02" width="15.06" height="15.07" fill="#271534"/>
<rect x="352.23" y="354.02" width="15.06" height="15.07" fill="#03051a"/>
<rect x="366.29" y="354.02" width="15.06" height="15.07" fill="#03051a"/>
<rect x="380.34" y="354.02" width="15.06" height="15.07" fill="#e83f3f"/>
<rect x="394.40" y="354.02" width="15.06" height="15.07" fill="#e03143"/>
<rect x="408.46" y="354.02" width="15.06" height="15.07" fill="#faebdd"/>
<rect x="422.51" y="354.02" width="15.06" height="15.07" fill="#f7c6a6"/>
<rect x="436.57" y="354.02" width="15.06" height="15.07" fill="#591e50"/>
<rect x="450.63" y="354.02" width="15.06" height="15.07" fill="#6e1f57"/>
<rect x="464.69" y="354.02" width="15.06" height="15.07" fill="#431c46"/>
<rect x="478.74" y="354.02" width="14.06" height="15.07" fill="#30173a"/>
<rect x="99.20" y="368.09" width="15.06" height="15.07" fill="#a11a5b"/>
<rect x="113.26" y="368.09" width="15.06" height="15.07" fill="#5e1f52"/>
<rect x="127.31" y="368.09" width="15.06" height="15.07" fill="#731f58"/>
<rect x="141.37" y="368.09" width="15.06" height="15.07" fill="#35193e"/>
<rect x="155.43" y="368.09" width="15.06" height="15.07" fill="#531e4d"/>
<rect x="169.49" y="368.09" width="15.06" height="15.07" fill="#1d112c"/>
<rect x="183.54" y="368.09" width="15.06" height="15.07" fill="#100b23"/>
<rect x="197.60" y="368.09" width="15.06" height="15.07" fill="#4e1d4b"/>
<rect x="211.66" y="368.09" width="15.06" height="15.07" fill="#3c1a42"/>
<rect x="225.71" y="368.09" width="15.06" height="15.07" fill="#531e4d"/>
<rect x="239.77" y="368.09" width="15.06" height="15.07" fill="#611f53"/>
<rect x="253.83" y="368.09" width="15.06" height="15.07" fill="#4c1d4b"/>
<rect x="267.89" y="368.09" width="15.06" height="15.07" fill="#381a40"/>
<rect x="281.94" y="368.09" width="15.06" height="15.07" fill="#4c1d4b"/>
<rect x="296.00" y="368.09" width="15.06" height="15.07" fill="#421b45"/>
<rect x="310.06" y="368.09" width="15.06" height="15.07" fill="#2d1738"/>
<rect x="324.11" y="368.09" width="15.06" height="15.07" fill="#2d1738"/>
<rect x="338.17" y="368.09" width="15.06" height="15.07" fill="#2d1738"/>
<rect x="352.23" y="368.09" width="15.06" height="15.07" fill="#03051a"/>
<rect x="366.29" y="368.09" width="15.06" height="15.07" fill="#03051a"/>
<rect x="380.34" y="368.09" width="15.06" height="15.07" fill="#af1759"/>
<rect x="394.40" y="368.09" width="15.06" height="15.07" fill="#921c5b"/>
<rect x="408.46" y="368.09" width="15.06" height="15.07" fill="#f3714d"/>
<rect x="422.51" y="368.09" width="15.06" height="15.07" fill="#e83f3f"/>
<rect x="436.57" y="368.09" width="15.06" height="15.07" fill="#180f29"/>
<rect x="450.63" y="368.09" width="15.06" height="15.07" fill="#4c1d4b"/>
<rect x="464.69" y="368.09" width="15.06" height="15.07" fill="#251433"/>
<rect x="478.74" y="368.09" width="14.06" height="15.07" fill="#110c24"/>
<rect x="99.20" y="382.15" width="15.06" height="15.07" fill="#faebdd"/>
<rect x="113.26" y="382.15" width="15.06" height="15.07" fill="#faebdd"/>
<rect x="127.31" y="382.15" width="15.06" height="15.07" fill="#faebdd"/>
<rect x="141.37" y="382.15" width="15.06" height="15.07" fill="#f7c6a6"/>
<rect x="155.43" y="382.15" width="15.06" height="15.07" fill="#faebdd"/>
<rect x="169.49" y="382.15" width="15.06" height="15.07" fill="#f69c73"/>
<rect x="183.54" y="382.15" width="15.06" height="15.07" fill="#f7c6a6"/>
<rect x="197.60" y="382.15" width="15.06" height="15.07" fill="#faebdd"/>
<rect x="211.66" y="382.15" width="15.06" height="15.07" fill="#faebdd"/>
<rect x="225.71" y="382.15" width="15.06" height="15.07" fill="#faebdd"/>
<rect x="239.77" y="382.15" width="15.06" height="15.07" fill="#faebdd"/>
<rect x="253.83" y="382.15" width="15.06" height="15.07" fill="#faebdd"/>
<rect x="267.89" y="382.15" width="15.06" height="15.07" fill="#faebdd"/>
<rect x="281.94" y="382.15" width="15.06" height="15.07" fill="#faebdd"/>
<rect x="296.00" y="382.15" width="15.06" height="15.07" fill="#faebdd"/>
<rect x="310.06" y="382.15" width="15.06" height="15.07" fill="#f6b893"/>
<rect x="324.11" y="382.15" width="15.06" height="15.07" fill="#f8d1b8"/>
<rect x="338.17" y="382.15" width="15.06" height="15.07" fill="#f9dfcb"/>
<rect x="352.23" y="382.15" width="15.06" height="15.07" fill="#e83f3f"/>
<rect x="366.29" y="382.15" width="15.06" height="15.07" fill="#af1759"/>
<rect x="380.34" y="382.15" width="15.06" height="15.07" fill="#03051a"/>
<rect x="394.40" y="382.15" width="15.06" height="15.07" fill="#33183c"/>
<rect x="408.46" y="382.15" width="15.06" height="15.07" fill="#4e1d4b"/>
<rect x="422.51" y="382.15" width="15.06" height="15.07" fill="#5c1e51"/>
<rect x="436.57" y="382.15" width="15.06" height="15.07" fill="#d62449"/>
<rect x="450.63" y="382.15" width="15.06" height="15.07" fill="#33183c"/>
<rect x="464.69" y="382.15" width="15.06" height="15.07" fill="#5c1e51"/>
<rect x="478.74" y="382.15" width="14.06" height="15.07" fill="#501d4c"/>
<rect x="99.20" y="396.22" width="15.06" height="15.07" fill="#faebdd"/>
<rect x="113.26" y="396.22" width="15.06" height="15.07" fill="#f9dfcb"/>
<rect x="127.31" y="396.22" width="15.06" height="15.07" fill="#faebdd"/>
<rect x="141.37" y="396.22" width="15.06" height="15.07" fill="#f69c73"/>
<rect x="155.43" y="396.22" width="15.06" height="15.07" fill="#f7c6a6"/>
<rect x="169.49" y="396.22" width="15.06" height="15.07" fill="#f3714d"/>
<rect x="183.54" y="396.22" width="15.06" height="15.07" fill="#f47f58"/>
<rect x="197.60" y="396.22" width="15.06" height="15.07" fill="#f8d9c3"/>
<rect x="211.66" y="396.22" width="15.06" height="15.07" fill="#f8d9c3"/>
<rect x="225.71" y="396.22" width="15.06" height="15.07" fill="#faebdd"/>
<rect x="239.77" y="396.22" width="15.06" height="15.07" fill="#faebdd"/>
<rect x="253.83" y="396.22" width="15.06" height="15.07" fill="#faebdd"/>
<rect x="267.89" y="396.22" width="15.06" height="15.07" fill="#f8d9c3"/>
<rect x="281.94" y="396.22" width="15.06" height="15.07" fill="#f8d9c3"/>
<rect x="296.00" y="396.22" width="15.06" height="15.07" fill="#f9dfcb"/>
<rect x="310.06" y="396.22" width="15.06" height="15.07" fill="#f69c73"/>
<rect x="324.11" y="396.22" width="15.06" height="15.07" fill="#f6ab83"/>
<rect x="338.17" y="396.22" width="15.06" height="15.07" fill="#f6b893"/>
<rect x="352.23" y="396.22" width="15.06" height="15.07" fill="#e03143"/>
<rect x="366.29" y="396.22" width="15.06" height="15.07" fill="#921c5b"/>
<rect x="380.34" y="396.22" width="15.06" height="15.07" fill="#33183c"/>
<rect x="394.40" y="396.22" width="15.06" height="15.07" fill="#03051a"/>
<rect x="408.46" y="396.22" width="15.06" height="15.07" fill="#2b1637"/>
<rect x="422.51" y="396.22" width="15.06" height="15.07" fill="#160e27"/>
<rect x="436.57" y="396.22" width="15.06" height="15.07" fill="#921c5b"/>
<rect x="450.63" y="396.22" width="15.06" height="15.07" fill="#631f53"/>
<rect x="464.69" y="396.22" width="15.06" height="15.07" fill="#661f54"/>
<rect x="478.74" y="396.22" width="14.06" height="15.07" fill="#5e1f52"/>
<rect x="99.20" y="410.28" width="15.06" height="15.07" fill="#faebdd"/>
<rect x="113.26" y="410.28" width="15.06" height="15.07" fill="#faebdd"/>
<rect x="127.31" y="410.28" width="15.06" height="15.07" fill="#faebdd"/>
<rect x="141.37" y="410.28" width="15.06" height="15.07" fill="#faebdd"/>
<rect x="155.43" y="410.28" width="15.06" height="15.07" fill="#faebdd"/>
<rect x="169.49" y="410.28" width="15.06" height="15.07" fill="#faebdd"/>
<rect x="183.54" y="410.28" width="15.06" height="15.07" fill="#faebdd"/>
<rect x="197.60" y="410.28" width="15.06" height="15.07" fill="#faebdd"/>
<rect x="211.66" y="410.28" width="15.06" height="15.07" fill="#faebdd"/>
<rect x="225.71" y="410.28" width="15.06" height="15.07" fill="#faebdd"/>
<rect x="239.77" y="410.28" width="15.06" height="15.07" fill="#faebdd"/>
<rect x="253.83" y="410.28" width="15.06" height="15.07" fill="#faebdd"/>
<rect x="267.89" y="410.28" width="15.06" height="15.07" fill="#faebdd"/>
<rect x="281.94" y="410.28" width="15.06" height="15.07" fill="#faebdd"/>
<rect x="296.00" y="410.28" width="15.06" height="15.07" fill="#faebdd"/>
<rect x="310.06" y="410.28" width="15.06" height="15.07" fill="#faebdd"/>
<rect x="324.11" y="410.28" width="15.06" height="15.07" fill="#faebdd"/>
<rect x="338.17" y="410.28" width="15.06" height="15.07" fill="#faebdd"/>
<rect x="352.23" y="410.28" width="15.06" height="15.07" fill="#faebdd"/>
<rect x="366.29" y="410.28" width="15.06" height="15.07" fill="#f3714d"/>
<rect x="380.34" y="410.28" width="15.06" height="15.07" fill="#4e1d4b"/>
<rect x="394.40" y="410.28" width="15.06" height="15.07" fill="#2b1637"/>
<rect x="408.46" y="410.28" width="15.06" height="15.07" fill="#03051a"/>
<rect x="422.51" y="410.28" width="15.06" height="15.07" fill="#170f28"/>
<rect x="436.57" y="410.28" width="15.06" height="15.07" fill="#f47f58"/>
<rect x="450.63" y="410.28" width="15.06" height="15.07" fill="#bd1655"/>
<rect x="464.69" y="410.28" width="15.06" height="15.07" fill="#cb1b4f"/>
<rect x="478.74" y="410.28" width="14.06" height="15.07" fill="#bd1655"/>
<rect x="99.20" y="424.35" width="15.06" height="15.07" fill="#faebdd"/>
<rect x="113.26" y="424.35" width="15.06" height="15.07" fill="#faebdd"/>
<rect x="127.31" y="424.35" width="15.06" height="15.07" fill="#faebdd"/>
<rect x="141.37" y="424.35" width="15.06" height="15.07" fill="#faebdd"/>
<rect x="155.43" y="424.35" width="15.06" height="15.07" fill="#faebdd"/>
<rect x="169.49" y="424.35" width="15.06" height="15.07" fill="#faebdd"/>
<rect x="183.54" y="424.35" width="15.06" height="15.07" fill="#faebdd"/>
<rect x="197.60" y="424.35" width="15.06" height="15.07" fill="#faebdd"/>
<rect x="211.66" y="424.35" width="15.06" height="15.07" fill="#faebdd"/>
<rect x="225.71" y="424.35" width="15.06" height="15.07" fill="#faebdd"/>
<rect x="239.77" y="424.35" width="15.06" height="15.07" fill="#faebdd"/>
<rect x="253.83" y="424.35" width="15.06" height="15.07" fill="#faebdd"/>
<rect x="267.89" y="424.35" width="15.06" height="15.07" fill="#faebdd"/>
<rect x="281.94" y="424.35" width="15.06" height="15.07" fill="#faebdd"/>
<rect x="296.00" y="424.35" width="15.06" height="15.07" fill="#faebdd"/>
<rect x="310.06" y="424.35" width="15.06" height="15.07" fill="#faebdd"/>
<rect x="324.11" y="424.35" width="15.06" height="15.07" fill="#faebdd"/>
<rect x="338.17" y="424.35" width="15.06" height="15.07" fill="#faebdd"/>
<rect x="352.23" y="424.35" width="15.06" height="15.07" fill="#f7c6a6"/>
<rect x="366.29" y="424.35" width="15.06" height="15.07" fill="#e83f3f"/>
<rect x="380.34" y="424.35" width="15.06" height="15.07" fill="#5c1e51"/>
<rect x="394.40" y="424.35" width="15.06" height="15.07" fill="#160e27"/>
<rect x="408.46" y="424.35" width="15.06" height="15.07" fill="#170f28"/>
<rect x="422.51" y="424.35" width="15.06" height="15.07" fill="#03051a"/>
<rect x="436.57" y="424.35" width="15.06" height="15.07" fill="#d62449"/>
<rect x="450.63" y="424.35" width="15.06" height="15.07" fill="#bd1655"/>
<rect x="464.69" y="424.35" width="15.06" height="15.07" fill="#bd1655"/>
<rect x="478.74" y="424.35" width="14.06" height="15.07" fill="#a11a5b"/>
<rect x="99.20" y="438.42" width="15.06" height="15.07" fill="#de2e44"/>
<rect x="113.26" y="438.42" width="15.06" height="15.07" fill="#a11a5b"/>
<rect x="127.31" y="438.42" width="15.06" height="15.07" fill="#cb1b4f"/>
<rect x="141.37" y="438.42" width="15.06" height="15.07" fill="#6e1f57"/>
<rect x="155.43" y="438.42" width="15.06" height="15.07" fill="#7f1e5a"/>
<rect x="169.49" y="438.42" width="15.06" height="15.07" fill="#591e50"/>
<rect x="183.54" y="438.42" width="15.06" height="15.07" fill="#7a1f59"/>
<rect x="197.60" y="438.42" width="15.06" height="15.07" fill="#841e5a"/>
<rect x="211.66" y="438.42" width="15.06" height="15.07" fill="#7a1f59"/>
<rect x="225.71" y="438.42" width="15.06" height="15.07" fill="#841e5a"/>
<rect x="239.77" y="438.42" width="15.06" height="15.07" fill="#cb1b4f"/>
<rect x="253.83" y="438.42" width="15.06" height="15.07" fill="#a11a5b"/>
<rect x="267.89" y="438.42" width="15.06" height="15.07" fill="#841e5a"/>
<rect x="281.94" y="438.42" width="15.06" height="15.07" fill="#921c5b"/>
<rect x="296.00" y="438.42" width="15.06" height="15.07" fill="#a11a5b"/>
<rect x="310.06" y="438.42" width="15.06" height="15.07" fill="#7d1f5a"/>
<rect x="324.11" y="438.42" width="15.06" height="15.07" fill="#7d1f5a"/>
<rect x="338.17" y="438.42" width="15.06" height="15.07" fill="#7d1f5a"/>
<rect x="352.23" y="438.42" width="15.06" height="15.07" fill="#591e50"/>
<rect x="366.29" y="438.42" width="15.06" height="15.07" fill="#180f29"/>
<rect x="380.34" y="438.42" width="15.06" height="15.07" fill="#d62449"/>
<rect x="394.40" y="438.42" width="15.06" height="15.07" fill="#921c5b"/>
<rect x="408.46" y="438.42" width="15.06" height="15.07" fill="#f47f58"/>
<rect x="422.51" y="438.42" width="15.06" height="15.07" fill="#d62449"/>
<rect x="436.57" y="438.42" width="15.06" height="15.07" fill="#03051a"/>
<rect x="450.63" y="438.42" width="15.06" height="15.07" fill="#921c5b"/>
<rect x="464.69" y="438.42" width="15.06" height="15.07" fill="#5c1e51"/>
<rect x="478.74" y="438.42" width="14.06" height="15.07" fill="#37193f"/>
<rect x="99.20" y="452.48" width="15.06" height="15.07" fill="#f7c6a6"/>
<rect x="113.26" y="452.48" width="15.06" height="15.07" fill="#f06043"/>
<rect x="127.31" y="452.48" width="15.06" height="15.07" fill="#f58f66"/>
<rect x="141.37" y="452.48" width="15.06" height="15.07" fill="#d62449"/>
<rect x="155.43" y="452.48" width="15.06" height="15.07" fill="#ed503e"/>
<rect x="169.49" y="452.48" width="15.06" height="15.07" fill="#af1759"/>
<rect x="183.54" y="452.48" width="15.06" height="15.07" fill="#bd1655"/>
<rect x="197.60" y="452.48" width="15.06" height="15.07" fill="#ed503e"/>
<rect x="211.66" y="452.48" width="15.06" height="15.07" fill="#e83f3f"/>
<rect x="225.71" y="452.48" width="15.06" height="15.07" fill="#f06043"/>
<rect x="239.77" y="452.48" width="15.06" height="15.07" fill="#f69c73"/>
<rect x="253.83" y="452.48" width="15.06" height="15.07" fill="#f3714d"/>
<rect x="267.89" y="452.48" width="15.06" height="15.07" fill="#ed503e"/>
<rect x="281.94" y="452.48" width="15.06" height="15.07" fill="#ed503e"/>
<rect x="296.00" y="452.48" width="15.06" height="15.07" fill="#f06043"/>
<rect x="310.06" y="452.48" width="15.06" height="15.07" fill="#d11f4c"/>
<rect x="324.11" y="452.48" width="15.06" height="15.07" fill="#d62449"/>
<rect x="338.17" y="452.48" width="15.06" height="15.07" fill="#e03143"/>
<rect x="352.23" y="452.48" width="15.06" height="15.07" fill="#6e1f57"/>
<rect x="366.29" y="452.48" width="15.06" height="15.07" fill="#4c1d4b"/>
<rect x="380.34" y="452.48" width="15.06" height="15.07" fill="#33183c"/>
<rect x="394.40" y="452.48" width="15.06" height="15.07" fill="#631f53"/>
<rect x="408.46" y="452.48" width="15.06" height="15.07" fill="#bd1655"/>
<rect x="422.51" y="452.48" width="15.06" height="15.07" fill="#bd1655"/>
<rect x="436.57" y="452.48" width="15.06" height="15.07" fill="#921c5b"/>
<rect x="450.63" y="452.48" width="15.06" height="15.07" fill="#03051a"/>
<rect x="464.69" y="452.48" width="15.06" height="15.07" fill="#140e26"/>
<rect x="478.74" y="452.48" width="14.06" height="15.07" fill="#1e122d"/>
<rect x="99.20" y="466.55" width="15.06" height="15.07" fill="#ed503e"/>
<rect x="113.26" y="466.55" width="15.06" height="15.07" fill="#bd1655"/>
<rect x="127.31" y="466.55" width="15.06" height="15.07" fill="#cb1b4f"/>
<rect x="141.37" y="466.55" width="15.06" height="15.07" fill="#921c5b"/>
<rect x="155.43" y="466.55" width="15.06" height="15.07" fill="#af1759"/>
<rect x="169.49" y="466.55" width="15.06" height="15.07" fill="#661f54"/>
<rect x="183.54" y="466.55" width="15.06" height="15.07" fill="#701f57"/>
<rect x="197.60" y="466.55" width="15.06" height="15.07" fill="#af1759"/>
<rect x="211.66" y="466.55" width="15.06" height="15.07" fill="#a11a5b"/>
<rect x="225.71" y="466.55" width="15.06" height="15.07" fill="#af1759"/>
<rect x="239.77" y="466.55" width="15.06" height="15.07" fill="#e03143"/>
<rect x="253.83" y="466.55" width="15.06" height="15.07" fill="#bd1655"/>
<rect x="267.89" y="466.55" width="15.06" height="15.07" fill="#a11a5b"/>
<rect x="281.94" y="466.55" width="15.06" height="15.07" fill="#a11a5b"/>
<rect x="296.00" y="466.55" width="15.06" height="15.07" fill="#af1759"/>
<rect x="310.06" y="466.55" width="15.06" height="15.07" fill="#7d1f5a"/>
<rect x="324.11" y="466.55" width="15.06" height="15.07" fill="#841e5a"/>
<rect x="338.17" y="466.55" width="15.06" height="15.07" fill="#921c5b"/>
<rect x="352.23" y="466.55" width="15.06" height="15.07" fill="#431c46"/>
<rect x="366.29" y="466.55" width="15.06" height="15.07" fill="#251433"/>
<rect x="380.34" y="466.55" width="15.06" height="15.07" fill="#5c1e51"/>
<rect x="394.40" y="466.55" width="15.06" height="15.07" fill="#661f54"/>
<rect x="408.46" y="466.55" width="15.06" height="15.07" fill="#cb1b4f"/>
<rect x="422.51" y="466.55" width="15.06" height="15.07" fill="#bd1655"/>
<rect x="436.57" y="466.55" width="15.06" height="15.07" fill="#5c1e51"/>
<rect x="450.63" y="466.55" width="15.06" height="15.07" fill="#140e26"/>
<rect x="464.69" y="466.55" width="15.06" height="15.07" fill="#03051a"/>
<rect x="478.74" y="466.55" width="14.06" height="15.07" fill="#100b23"/>
<rect x="99.20" y="480.61" width="15.06" height="14.07" fill="#bd1655"/>
<rect x="113.26" y="480.61" width="15.06" height="14.07" fill="#841e5a"/>
<rect x="127.31" y="480.61" width="15.06" height="14.07" fill="#a11a5b"/>
<rect x="141.37" y="480.61" width="15.06" height="14.07" fill="#731f58"/>
<rect x="155.43" y="480.61" width="15.06" height="14.07" fill="#841e5a"/>
<rect x="169.49" y="480.61" width="15.06" height="14.07" fill="#451c47"/>
<rect x="183.54" y="480.61" width="15.06" height="14.07" fill="#4e1d4b"/>
<rect x="197.60" y="480.61" width="15.06" height="14.07" fill="#821e5a"/>
<rect x="211.66" y="480.61" width="15.06" height="14.07" fill="#751f58"/>
<rect x="225.71" y="480.61" width="15.06" height="14.07" fill="#811e5a"/>
<rect x="239.77" y="480.61" width="15.06" height="14.07" fill="#921c5b"/>
<rect x="253.83" y="480.61" width="15.06" height="14.07" fill="#7f1e5a"/>
<rect x="267.89" y="480.61" width="15.06" height="14.07" fill="#7b1f59"/>
<rect x="281.94" y="480.61" width="15.06" height="14.07" fill="#761f58"/>
<rect x="296.00" y="480.61" width="15.06" height="14.07" fill="#7f1e5a"/>
<rect x="310.06" y="480.61" width="15.06" height="14.07" fill="#581e4f"/>
<rect x="324.11" y="480.61" width="15.06" height="14.07" fill="#611f53"/>
<rect x="338.17" y="480.61" width="15.06" height="14.07" fill="#641f54"/>
<rect x="352.23" y="480.61" width="15.06" height="14.07" fill="#30173a"/>
<rect x="366.29" y="480.61" width="15.06" height="14.07" fill="#110c24"/>
<rect x="380.34" y="480.61" width="15.06" height="14.07" fill="#501d4c"/>
<rect x="394.40" y="480.61" width="15.06" height="14.07" fill="#5e1f52"/>
<rect x="408.46" y="480.61" width="15.06" height="14.07" fill="#bd1655"/>
<rect x="422.51" y="480.61" width="15.06" height="14.07" fill="#a11a5b"/>
<rect x="436.57" y="480.61" width="15.06" height="14.07" fill="#37193f"/>
<rect x="450.63" y="480.61" width="15.06" height="14.07" fill="#1e122d"/>
<rect x="464.69" y="480.61" width="15.06" height="14.07" fill="#100b23"/>
<rect x="478.74" y="480.61" width="14.06" height="14.07" fill="#03051a"/>
</g>
<g font-size="2.40px" text-anchor="middle" fill="#ffffff" fill-opacity="0.82"><text transform="translate(106.23 108.47) skewY(0.2)">0</text><text transform="translate(120.29 108.47) skewY(0.2)">0.0004</text><text transform="translate(134.34 108.47) skewY(0.2)">0.0001</text><text transform="translate(148.40 108.47) skewY(0.2)">0.039</text><text transform="translate(162.46 108.47) skewY(0.2)">0.031</text><text transform="translate(176.51 108.47) skewY(0.2)">0.055</text><text transform="translate(190.57 108.47) skewY(0.2)">0.071</text><text transform="translate(204.63 108.47) skewY(0.2)">0.084</text><text transform="translate(218.69 108.47) skewY(0.2)">0.057</text><text transform="translate(232.74 108.47) skewY(0.2)">0.06</text><text transform="translate(246.80 108.47) skewY(0.2)">0.045</text><text transform="translate(260.86 108.47) skewY(0.2)">0.038</text><text transform="translate(274.91 108.47) skewY(0.2)">0.04</text><text transform="translate(288.97 108.47) skewY(0.2)">0.057</text><text transform="translate(303.03 108.47) skewY(0.2)">0.052</text><text transform="translate(317.09 108.47) skewY(0.2)">0.048</text><text transform="translate(331.14 108.47) skewY(0.2)">0.05</text><text transform="translate(345.20 108.47) skewY(0.2)">0.053</text><text transform="translate(359.26 108.47) skewY(0.2)">0.11</text><text transform="translate(373.31 108.47) skewY(0.2)">0.12</text><text transform="translate(443.60 108.47) skewY(0.2)">0.16</text><text transform="translate(471.71 108.47) skewY(0.2)">0.19</text><text transform="translate(485.77 108.47) skewY(0.2)">0.14</text><text transform="translate(106.23 122.54) skewY(0.2)">0.0004</text><text transform="translate(120.29 122.54) skewY(0.2)">0</text><text transform="translate(134.34 122.54) skewY(0.2)">0.0002</text><text transform="translate(148.40 122.54) skewY(0.2)">0.019</text><text transform="translate(162.46 122.54) skewY(0.2)">0.014</text><text transform="translate(176.51 122.54) skewY(0.2)">0.037</text><text transform="translate(190.57 122.54) skewY(0.2)">0.048</text><text transform="translate(204.63 122.54) skewY(0.2)">0.063</text><text transform="translate(218.69 122.54) skewY(0.2)">0.041</text><text transform="translate(232.74 122.54) skewY(0.2)">0.044</text><text transform="translate(246.80 122.54) skewY(0.2)">0.045</text><text transform="translate(260.86 122.54) skewY(0.2)">0.038</text><text transform="translate(274.91 122.54) skewY(0.2)">0.032</text><text transform="translate(288.97 122.54) skewY(0.2)">0.044</text><text transform="translate(303.03 122.54) skewY(0.2)">0.043</text><text transform="translate(317.09 122.54) skewY(0.2)">0.038</text><text transform="translate(331.14 122.54) skewY(0.2)">0.038</text><text transform="translate(345.20 122.54) skewY(0.2)">0.037</text><text transform="translate(359.26 122.54) skewY(0.2)">0.069</text><text transform="translate(373.31 122.54) skewY(0.2)">0.073</text><text transform="translate(443.60 122.54) skewY(0.2)">0.12</text><text transform="translate(457.66 122.54) skewY(0.2)">0.2</text><text transform="translate(471.71 122.54) skewY(0.2)">0.14</text><text transform="translate(485.77 122.54) skewY(0.2)">0.1</text><text transform="translate(106.23 136.60) skewY(0.2)">0.0001</text><text transform="translate(120.29 136.60) skewY(0.2)">0.0002</text><text transform="translate(134.34 136.60) skewY(0.2)">0</text><text transform="translate(148.40 136.60) skewY(0.2)">0.031</text><text transform="translate(162.46 136.60) skewY(0.2)">0.027</text><text transform="translate(176.51 136.60) skewY(0.2)">0.043</text><text transform="translate(190.57 136.60) skewY(0.2)">0.055</text><text transform="translate(204.63 136.60) skewY(0.2)">0.069</text><text transform="translate(218.69 136.60) skewY(0.2)">0.047</text><text transform="translate(232.74 136.60) skewY(0.2)">0.053</text><text transform="translate(246.80 136.60) skewY(0.2)">0.046</text><text transform="translate(260.86 136.60) skewY(0.2)">0.038</text><text transform="translate(274.91 136.60) skewY(0.2)">0.036</text><text transform="translate(288.97 136.60) skewY(0.2)">0.048</text><text transform="translate(303.03 136.60) skewY(0.2)">0.046</text><text transform="translate(317.09 136.60) skewY(0.2)">0.042</text><text transform="translate(331.14 136.60) skewY(0.2)">0.042</text><text transform="translate(345.20 136.60) skewY(0.2)">0.043</text><text transform="translate(359.26 136.60) skewY(0.2)">0.079</text><text transform="translate(373.31 136.60) skewY(0.2)">0.088</text><text transform="translate(443.60 136.60) skewY(0.2)">0.15</text><text transform="translate(457.66 136.60) skewY(0.2)">0.23</text><text transform="translate(471.71 136.60) skewY(0.2)">0.15</text><text transform="translate(485.77 136.60) skewY(0.2)">0.12</text><text transform="translate(106.23 150.67) skewY(0.2)">0.039</text><text transform="translate(120.29 150.67) skewY(0.2)">0.019</text><text transform="translate(134.34 150.67) skewY(0.2)">0.031</text><text transform="translate(148.40 150.67) skewY(0.2)">0</text><text transform="translate(162.46 150.67) skewY(0.2)">0.01</text><text transform="translate(176.51 150.67) skewY(0.2)">0.037</text><text transform="translate(190.57 150.67) skewY(0.2)">0.042</text><text transform="translate(204.63 150.67) skewY(0.2)">0.062</text><text transform="translate(218.69 150.67) skewY(0.2)">0.049</text><text transform="translate(232.74 150.67) skewY(0.2)">0.061</text><text transform="translate(246.80 150.67) skewY(0.2)">0.079</text><text transform="translate(260.86 150.67) skewY(0.2)">0.058</text><text transform="translate(274.91 150.67) skewY(0.2)">0.049</text><text transform="translate(288.97 150.67) skewY(0.2)">0.06</text><text transform="translate(303.03 150.67) skewY(0.2)">0.048</text><text transform="translate(317.09 150.67) skewY(0.2)">0.046</text><text transform="translate(331.14 150.67) skewY(0.2)">0.051</text><text transform="translate(345.20 150.67) skewY(0.2)">0.052</text><text transform="translate(359.26 150.67) skewY(0.2)">0.041</text><text transform="translate(373.31 150.67) skewY(0.2)">0.043</text><text transform="translate(443.60 150.67) skewY(0.2)">0.085</text><text transform="translate(457.66 150.67) skewY(0.2)">0.16</text><text transform="translate(471.71 150.67) skewY(0.2)">0.11</text><text transform="translate(485.77 150.67) skewY(0.2)">0.088</text><text transform="translate(106.23 164.73) skewY(0.2)">0.031</text><text transform="translate(120.29 164.73) skewY(0.2)">0.014</text><text transform="translate(134.34 164.73) skewY(0.2)">0.027</text><text transform="translate(148.40 164.73) skewY(0.2)">0.01</text><text transform="translate(162.46 164.73) skewY(0.2)">0</text><text transform="translate(176.51 164.73) skewY(0.2)">0.028</text><text transform="translate(190.57 164.73) skewY(0.2)">0.051</text><text transform="translate(204.63 164.73) skewY(0.2)">0.067</text><text transform="translate(218.69 164.73) skewY(0.2)">0.042</text><text transform="translate(232.74 164.73) skewY(0.2)">0.058</text><text transform="translate(246.80 164.73) skewY(0.2)">0.086</text><text transform="translate(260.86 164.73) skewY(0.2)">0.057</text><text transform="translate(274.91 164.73) skewY(0.2)">0.043</text><text transform="translate(288.97 164.73) skewY(0.2)">0.055</text><text transform="translate(303.03 164.73) skewY(0.2)">0.052</text><text transform="translate(317.09 164.73) skewY(0.2)">0.046</text><text transform="translate(331.14 164.73) skewY(0.2)">0.052</text><text transform="translate(345.20 164.73) skewY(0.2)">0.05</text><text transform="translate(359.26 164.73) skewY(0.2)">0.047</text><text transform="translate(373.31 164.73) skewY(0.2)">0.065</text><text transform="translate(443.60 164.73) skewY(0.2)">0.097</text><text transform="translate(457.66 164.73) skewY(0.2)">0.19</text><text transform="translate(471.71 164.73) skewY(0.2)">0.13</text><text transform="translate(485.77 164.73) skewY(0.2)">0.1</text><text transform="translate(106.23 178.80) skewY(0.2)">0.055</text><text transform="translate(120.29 178.80) skewY(0.2)">0.037</text><text transform="translate(134.34 178.80) skewY(0.2)">0.043</text><text transform="translate(148.40 178.80) skewY(0.2)">0.037</text><text transform="translate(162.46 178.80) skewY(0.2)">0.028</text><text transform="translate(176.51 178.80) skewY(0.2)">0</text><text transform="translate(190.57 178.80) skewY(0.2)">0.0019</text><text transform="translate(204.63 178.80) skewY(0.2)">0.03</text><text transform="translate(218.69 178.80) skewY(0.2)">0.011</text><text transform="translate(232.74 178.80) skewY(0.2)">0.021</text><text transform="translate(246.80 178.80) skewY(0.2)">0.025</text><text transform="translate(260.86 178.80) skewY(0.2)">0.01</text><text transform="translate(274.91 178.80) skewY(0.2)">0.0032</text><text transform="translate(288.97 178.80) skewY(0.2)">0.017</text><text transform="translate(303.03 178.80) skewY(0.2)">0.013</text><text transform="translate(317.09 178.80) skewY(0.2)">0.0087</text><text transform="translate(331.14 178.80) skewY(0.2)">0.0096</text><text transform="translate(345.20 178.80) skewY(0.2)">0.016</text><text transform="translate(359.26 178.80) skewY(0.2)">0.0023</text><text transform="translate(373.31 178.80) skewY(0.2)">0.023</text><text transform="translate(401.43 178.80) skewY(0.2)">0.21</text><text transform="translate(443.60 178.80) skewY(0.2)">0.07</text><text transform="translate(457.66 178.80) skewY(0.2)">0.13</text><text transform="translate(471.71 178.80) skewY(0.2)">0.079</text><text transform="translate(485.77 178.80) skewY(0.2)">0.055</text><text transform="translate(106.23 192.87) skewY(0.2)">0.071</text><text transform="translate(120.29 192.87) skewY(0.2)">0.048</text><text transform="translate(134.34 192.87) skewY(0.2)">0.055</text><text transform="translate(148.40 192.87) skewY(0.2)">0.042</text><text transform="translate(162.46 192.87) skewY(0.2)">0.051</text><text transform="translate(176.51 192.87) skewY(0.2)">0.0019</text><text transform="translate(190.57 192.87) skewY(0.2)">0</text><text transform="translate(204.63 192.87) skewY(0.2)">0.053</text><text transform="translate(218.69 192.87) skewY(0.2)">0.025</text><text transform="translate(232.74 192.87) skewY(0.2)">0.048</text><text transform="translate(246.80 192.87) skewY(0.2)">0.028</text><text transform="translate(260.86 192.87) skewY(0.2)">0.019</text><text transform="translate(274.91 192.87) skewY(0.2)">0.01</text><text transform="translate(288.97 192.87) skewY(0.2)">0.038</text><text transform="translate(303.03 192.87) skewY(0.2)">0.012</text><text transform="translate(317.09 192.87) skewY(0.2)">0.011</text><text transform="translate(331.14 192.87) skewY(0.2)">0.013</text><text transform="translate(345.20 192.87) skewY(0.2)">0.0098</text><text transform="translate(359.26 192.87) skewY(0.2)">0</text><text transform="translate(373.31 192.87) skewY(0.2)">0.012</text><text transform="translate(401.43 192.87) skewY(0.2)">0.22</text><text transform="translate(443.60 192.87) skewY(0.2)">0.093</text><text transform="translate(457.66 192.87) skewY(0.2)">0.14</text><text transform="translate(471.71 192.87) skewY(0.2)">0.086</text><text transform="translate(485.77 192.87) skewY(0.2)">0.061</text><text transform="translate(106.23 206.93) skewY(0.2)">0.084</text><text transform="translate(120.29 206.93) skewY(0.2)">0.063</text><text transform="translate(134.34 206.93) skewY(0.2)">0.069</text><text transform="translate(148.40 206.93) skewY(0.2)">0.062</text><text transform="translate(162.46 206.93) skewY(0.2)">0.067</text><text transform="translate(176.51 206.93) skewY(0.2)">0.03</text><text transform="translate(190.57 206.93) skewY(0.2)">0.053</text><text transform="translate(204.63 206.93) skewY(0.2)">0</text><text transform="translate(218.69 206.93) skewY(0.2)">0.0036</text><text transform="translate(232.74 206.93) skewY(0.2)">0.0038</text><text transform="translate(246.80 206.93) skewY(0.2)">0.048</text><text transform="translate(260.86 206.93) skewY(0.2)">0.032</text><text transform="translate(274.91 206.93) skewY(0.2)">0.034</text><text transform="translate(288.97 206.93) skewY(0.2)">0.028</text><text transform="translate(303.03 206.93) skewY(0.2)">0.037</text><text transform="translate(317.09 206.93) skewY(0.2)">0.031</text><text transform="translate(331.14 206.93) skewY(0.2)">0.028</text><text transform="translate(345.20 206.93) skewY(0.2)">0.034</text><text transform="translate(359.26 206.93) skewY(0.2)">0.066</text><text transform="translate(373.31 206.93) skewY(0.2)">0.061</text><text transform="translate(443.60 206.93) skewY(0.2)">0.1</text><text transform="translate(457.66 206.93) skewY(0.2)">0.19</text><text transform="translate(471.71 206.93) skewY(0.2)">0.13</text><text transform="translate(485.77 206.93) skewY(0.2)">0.099</text><text transform="translate(106.23 221.00) skewY(0.2)">0.057</text><text transform="translate(120.29 221.00) skewY(0.2)">0.041</text><text transform="translate(134.34 221.00) skewY(0.2)">0.047</text><text transform="translate(148.40 221.00) skewY(0.2)">0.049</text><text transform="translate(162.46 221.00) skewY(0.2)">0.042</text><text transform="translate(176.51 221.00) skewY(0.2)">0.011</text><text transform="translate(190.57 221.00) skewY(0.2)">0.025</text><text transform="translate(204.63 221.00) skewY(0.2)">0.0036</text><text transform="translate(218.69 221.00) skewY(0.2)">0</text><text transform="translate(232.74 221.00) skewY(0.2)">0.00027</text><text transform="translate(246.80 221.00) skewY(0.2)">0.025</text><text transform="translate(260.86 221.00) skewY(0.2)">0.0093</text><text transform="translate(274.91 221.00) skewY(0.2)">0.01</text><text transform="translate(288.97 221.00) skewY(0.2)">0.017</text><text transform="translate(303.03 221.00) skewY(0.2)">0.017</text><text transform="translate(317.09 221.00) skewY(0.2)">0.013</text><text transform="translate(331.14 221.00) skewY(0.2)">0.0097</text><text transform="translate(345.20 221.00) skewY(0.2)">0.0093</text><text transform="translate(359.26 221.00) skewY(0.2)">0.051</text><text transform="translate(373.31 221.00) skewY(0.2)">0.048</text><text transform="translate(443.60 221.00) skewY(0.2)">0.093</text><text transform="translate(457.66 221.00) skewY(0.2)">0.18</text><text transform="translate(471.71 221.00) skewY(0.2)">0.12</text><text transform="translate(485.77 221.00) skewY(0.2)">0.09</text><text transform="translate(106.23 235.06) skewY(0.2)">0.06</text><text transform="translate(120.29 235.06) skewY(0.2)">0.044</text><text transform="translate(134.34 235.06) skewY(0.2)">0.053</text><text transform="translate(148.40 235.06) skewY(0.2)">0.061</text><text transform="translate(162.46 235.06) skewY(0.2)">0.058</text><text transform="translate(176.51 235.06) skewY(0.2)">0.021</text><text transform="translate(190.57 235.06) skewY(0.2)">0.048</text><text transform="translate(204.63 235.06) skewY(0.2)">0.0038</text><text transform="translate(218.69 235.06) skewY(0.2)">0.00027</text><text transform="translate(232.74 235.06) skewY(0.2)">0</text><text transform="translate(246.80 235.06) skewY(0.2)">0.028</text><text transform="translate(260.86 235.06) skewY(0.2)">0.019</text><text transform="translate(274.91 235.06) skewY(0.2)">0.019</text><text transform="translate(288.97 235.06) skewY(0.2)">0.019</text><text transform="translate(303.03 235.06) skewY(0.2)">0.031</text><text transform="translate(317.09 235.06) skewY(0.2)">0.024</text><text transform="translate(331.14 235.06) skewY(0.2)">0.021</text><text transform="translate(345.20 235.06) skewY(0.2)">0.017</text><text transform="translate(359.26 235.06) skewY(0.2)">0.066</text><text transform="translate(373.31 235.06) skewY(0.2)">0.065</text><text transform="translate(443.60 235.06) skewY(0.2)">0.1</text><text transform="translate(457.66 235.06) skewY(0.2)">0.2</text><text transform="translate(471.71 235.06) skewY(0.2)">0.13</text><text transform="translate(485.77 235.06) skewY(0.2)">0.098</text><text transform="translate(106.23 249.13) skewY(0.2)">0.045</text><text transform="translate(120.29 249.13) skewY(0.2)">0.045</text><text transform="translate(134.34 249.13) skewY(0.2)">0.046</text><text transform="translate(148.40 249.13) skewY(0.2)">0.079</text><text transform="translate(162.46 249.13) skewY(0.2)">0.086</text><text transform="translate(176.51 249.13) skewY(0.2)">0.025</text><text transform="translate(190.57 249.13) skewY(0.2)">0.028</text><text transform="translate(204.63 249.13) skewY(0.2)">0.048</text><text transform="translate(218.69 249.13) skewY(0.2)">0.025</text><text transform="translate(232.74 249.13) skewY(0.2)">0.028</text><text transform="translate(246.80 249.13) skewY(0.2)">0</text><text transform="translate(260.86 249.13) skewY(0.2)">0.0024</text><text transform="translate(274.91 249.13) skewY(0.2)">0.0066</text><text transform="translate(288.97 249.13) skewY(0.2)">0.028</text><text transform="translate(303.03 249.13) skewY(0.2)">0.015</text><text transform="translate(317.09 249.13) skewY(0.2)">0.016</text><text transform="translate(331.14 249.13) skewY(0.2)">0.016</text><text transform="translate(345.20 249.13) skewY(0.2)">0.018</text><text transform="translate(359.26 249.13) skewY(0.2)">0.063</text><text transform="translate(373.31 249.13) skewY(0.2)">0.075</text><text transform="translate(443.60 249.13) skewY(0.2)">0.15</text><text transform="translate(471.71 249.13) skewY(0.2)">0.17</text><text transform="translate(485.77 249.13) skewY(0.2)">0.11</text><text transform="translate(106.23 263.20) skewY(0.2)">0.038</text><text transform="translate(120.29 263.20) skewY(0.2)">0.038</text><text transform="translate(134.34 263.20) skewY(0.2)">0.038</text><text transform="translate(148.40 263.20) skewY(0.2)">0.058</text><text transform="translate(162.46 263.20) skewY(0.2)">0.057</text><text transform="translate(176.51 263.20) skewY(0.2)">0.01</text><text transform="translate(190.57 263.20) skewY(0.2)">0.019</text><text transform="translate(204.63 263.20) skewY(0.2)">0.032</text><text transform="translate(218.69 263.20) skewY(0.2)">0.0093</text><text transform="translate(232.74 263.20) skewY(0.2)">0.019</text><text transform="translate(246.80 263.20) skewY(0.2)">0.0024</text><text transform="translate(260.86 263.20) skewY(0.2)">0</text><text transform="translate(274.91 263.20) skewY(0.2)">0</text><text transform="translate(288.97 263.20) skewY(0.2)">0.012</text><text transform="translate(303.03 263.20) skewY(0.2)">0.0082</text><text transform="translate(317.09 263.20) skewY(0.2)">0.0081</text><text transform="translate(331.14 263.20) skewY(0.2)">0.008</text><text transform="translate(345.20 263.20) skewY(0.2)">0.0067</text><text transform="translate(359.26 263.20) skewY(0.2)">0.044</text><text transform="translate(373.31 263.20) skewY(0.2)">0.06</text><text transform="translate(443.60 263.20) skewY(0.2)">0.12</text><text transform="translate(457.66 263.20) skewY(0.2)">0.21</text><text transform="translate(471.71 263.20) skewY(0.2)">0.14</text><text transform="translate(485.77 263.20) skewY(0.2)">0.097</text><text transform="translate(106.23 277.26) skewY(0.2)">0.04</text><text transform="translate(120.29 277.26) skewY(0.2)">0.032</text><text transform="translate(134.34 277.26) skewY(0.2)">0.036</text><text transform="translate(148.40 277.26) skewY(0.2)">0.049</text><text transform="translate(162.46 277.26) skewY(0.2)">0.043</text><text transform="translate(176.51 277.26) skewY(0.2)">0.0032</text><text transform="translate(190.57 277.26) skewY(0.2)">0.01</text><text transform="translate(204.63 277.26) skewY(0.2)">0.034</text><text transform="translate(218.69 277.26) skewY(0.2)">0.01</text><text transform="translate(232.74 277.26) skewY(0.2)">0.019</text><text transform="translate(246.80 277.26) skewY(0.2)">0.0066</text><text transform="translate(260.86 277.26) skewY(0.2)">0</text><text transform="translate(274.91 277.26) skewY(0.2)">0</text><text transform="translate(288.97 277.26) skewY(0.2)">0.0094</text><text transform="translate(303.03 277.26) skewY(0.2)">0.0047</text><text transform="translate(317.09 277.26) skewY(0.2)">0.0059</text><text transform="translate(331.14 277.26) skewY(0.2)">0.0042</text><text transform="translate(345.20 277.26) skewY(0.2)">0.0053</text><text transform="translate(359.26 277.26) skewY(0.2)">0.035</text><text transform="translate(373.31 277.26) skewY(0.2)">0.045</text><text transform="translate(443.60 277.26) skewY(0.2)">0.1</text><text transform="translate(457.66 277.26) skewY(0.2)">0.19</text><text transform="translate(471.71 277.26) skewY(0.2)">0.12</text><text transform="translate(485.77 277.26) skewY(0.2)">0.094</text><text transform="translate(106.23 291.33) skewY(0.2)">0.057</text><text transform="translate(120.29 291.33) skewY(0.2)">0.044</text><text transform="translate(134.34 291.33) skewY(0.2)">0.048</text><text transform="translate(148.40 291.33) skewY(0.2)">0.06</text><text transform="translate(162.46 291.33) skewY(0.2)">0.055</text><text transform="translate(176.51 291.33) skewY(0.2)">0.017</text><text transform="translate(190.57 291.33) skewY(0.2)">0.038</text><text transform="translate(204.63 291.33) skewY(0.2)">0.028</text><text transform="translate(218.69 291.33) skewY(0.2)">0.017</text><text transform="translate(232.74 291.33) skewY(0.2)">0.019</text><text transform="translate(246.80 291.33) skewY(0.2)">0.028</text><text transform="translate(260.86 291.33) skewY(0.2)">0.012</text><text transform="translate(274.91 291.33) skewY(0.2)">0.0094</text><text transform="translate(288.97 291.33) skewY(0.2)">0</text><text transform="translate(303.03 291.33) skewY(0.2)">0.022</text><text transform="translate(317.09 291.33) skewY(0.2)">0.015</text><text transform="translate(331.14 291.33) skewY(0.2)">0.016</text><text transform="translate(345.20 291.33) skewY(0.2)">0.016</text><text transform="translate(359.26 291.33) skewY(0.2)">0.053</text><text transform="translate(373.31 291.33) skewY(0.2)">0.06</text><text transform="translate(443.60 291.33) skewY(0.2)">0.11</text><text transform="translate(457.66 291.33) skewY(0.2)">0.19</text><text transform="translate(471.71 291.33) skewY(0.2)">0.12</text><text transform="translate(485.77 291.33) skewY(0.2)">0.091</text><text transform="translate(106.23 305.40) skewY(0.2)">0.052</text><text transform="translate(120.29 305.40) skewY(0.2)">0.043</text><text transform="translate(134.34 305.40) skewY(0.2)">0.046</text><text transform="translate(148.40 305.40) skewY(0.2)">0.048</text><text transform="translate(162.46 305.40) skewY(0.2)">0.052</text><text transform="translate(176.51 305.40) skewY(0.2)">0.013</text><text transform="translate(190.57 305.40) skewY(0.2)">0.012</text><text transform="translate(204.63 305.40) skewY(0.2)">0.037</text><text transform="translate(218.69 305.40) skewY(0.2)">0.017</text><text transform="translate(232.74 305.40) skewY(0.2)">0.031</text><text transform="translate(246.80 305.40) skewY(0.2)">0.015</text><text transform="translate(260.86 305.40) skewY(0.2)">0.0082</text><text transform="translate(274.91 305.40) skewY(0.2)">0.0047</text><text transform="translate(288.97 305.40) skewY(0.2)">0.022</text><text transform="translate(303.03 305.40) skewY(0.2)">0</text><text transform="translate(317.09 305.40) skewY(0.2)">0.0032</text><text transform="translate(331.14 305.40) skewY(0.2)">0</text><text transform="translate(345.20 305.40) skewY(0.2)">0.0024</text><text transform="translate(359.26 305.40) skewY(0.2)">0.031</text><text transform="translate(373.31 305.40) skewY(0.2)">0.052</text><text transform="translate(443.60 305.40) skewY(0.2)">0.12</text><text transform="translate(457.66 305.40) skewY(0.2)">0.2</text><text transform="translate(471.71 305.40) skewY(0.2)">0.13</text><text transform="translate(485.77 305.40) skewY(0.2)">0.097</text><text transform="translate(106.23 319.46) skewY(0.2)">0.048</text><text transform="translate(120.29 319.46) skewY(0.2)">0.038</text><text transform="translate(134.34 319.46) skewY(0.2)">0.042</text><text transform="translate(148.40 319.46) skewY(0.2)">0.046</text><text transform="translate(162.46 319.46) skewY(0.2)">0.046</text><text transform="translate(176.51 319.46) skewY(0.2)">0.0087</text><text transform="translate(190.57 319.46) skewY(0.2)">0.011</text><text transform="translate(204.63 319.46) skewY(0.2)">0.031</text><text transform="translate(218.69 319.46) skewY(0.2)">0.013</text><text transform="translate(232.74 319.46) skewY(0.2)">0.024</text><text transform="translate(246.80 319.46) skewY(0.2)">0.016</text><text transform="translate(260.86 319.46) skewY(0.2)">0.0081</text><text transform="translate(274.91 319.46) skewY(0.2)">0.0059</text><text transform="translate(288.97 319.46) skewY(0.2)">0.015</text><text transform="translate(303.03 319.46) skewY(0.2)">0.0032</text><text transform="translate(317.09 319.46) skewY(0.2)">0</text><text transform="translate(331.14 319.46) skewY(0.2)">0</text><text transform="translate(345.20 319.46) skewY(0.2)">0.0036</text><text transform="translate(359.26 319.46) skewY(0.2)">0.027</text><text transform="translate(373.31 319.46) skewY(0.2)">0.036</text><text transform="translate(443.60 319.46) skewY(0.2)">0.095</text><text transform="translate(457.66 319.46) skewY(0.2)">0.15</text><text transform="translate(471.71 319.46) skewY(0.2)">0.096</text><text transform="translate(485.77 319.46) skewY(0.2)">0.069</text><text transform="translate(106.23 333.53) skewY(0.2)">0.05</text><text transform="translate(120.29 333.53) skewY(0.2)">0.038</text><text transform="translate(134.34 333.53) skewY(0.2)">0.042</text><text transform="translate(148.40 333.53) skewY(0.2)">0.051</text><text transform="translate(162.46 333.53) skewY(0.2)">0.052</text><text transform="translate(176.51 333.53) skewY(0.2)">0.0096</text><text transform="translate(190.57 333.53) skewY(0.2)">0.013</text><text transform="translate(204.63 333.53) skewY(0.2)">0.028</text><text transform="translate(218.69 333.53) skewY(0.2)">0.0097</text><text transform="translate(232.74 333.53) skewY(0.2)">0.021</text><text transform="translate(246.80 333.53) skewY(0.2)">0.016</text><text transform="translate(260.86 333.53) skewY(0.2)">0.008</text><text transform="translate(274.91 333.53) skewY(0.2)">0.0042</text><text transform="translate(288.97 333.53) skewY(0.2)">0.016</text><text transform="translate(303.03 333.53) skewY(0.2)">0</text><text transform="translate(317.09 333.53) skewY(0.2)">0</text><text transform="translate(331.14 333.53) skewY(0.2)">0</text><text transform="translate(345.20 333.53) skewY(0.2)">0</text><text transform="translate(359.26 333.53) skewY(0.2)">0.024</text><text transform="translate(373.31 333.53) skewY(0.2)">0.036</text><text transform="translate(443.60 333.53) skewY(0.2)">0.095</text><text transform="translate(457.66 333.53) skewY(0.2)">0.16</text><text transform="translate(471.71 333.53) skewY(0.2)">0.1</text><text transform="translate(485.77 333.53) skewY(0.2)">0.075</text><text transform="translate(106.23 347.59) skewY(0.2)">0.053</text><text transform="translate(120.29 347.59) skewY(0.2)">0.037</text><text transform="translate(134.34 347.59) skewY(0.2)">0.043</text><text transform="translate(148.40 347.59) skewY(0.2)">0.052</text><text transform="translate(162.46 347.59) skewY(0.2)">0.05</text><text transform="translate(176.51 347.59) skewY(0.2)">0.016</text><text transform="translate(190.57 347.59) skewY(0.2)">0.0098</text><text transform="translate(204.63 347.59) skewY(0.2)">0.034</text><text transform="translate(218.69 347.59) skewY(0.2)">0.0093</text><text transform="translate(232.74 347.59) skewY(0.2)">0.017</text><text transform="translate(246.80 347.59) skewY(0.2)">0.018</text><text transform="translate(260.86 347.59) skewY(0.2)">0.0067</text><text transform="translate(274.91 347.59) skewY(0.2)">0.0053</text><text transform="translate(288.97 347.59) skewY(0.2)">0.016</text><text transform="translate(303.03 347.59) skewY(0.2)">0.0024</text><text transform="translate(317.09 347.59) skewY(0.2)">0.0036</text><text transform="translate(331.14 347.59) skewY(0.2)">0</text><text transform="translate(345.20 347.59) skewY(0.2)">0</text><text transform="translate(359.26 347.59) skewY(0.2)">0.031</text><text transform="translate(373.31 347.59) skewY(0.2)">0.036</text><text transform="translate(443.60 347.59) skewY(0.2)">0.095</text><text transform="translate(457.66 347.59) skewY(0.2)">0.17</text><text transform="translate(471.71 347.59) skewY(0.2)">0.11</text><text transform="translate(485.77 347.59) skewY(0.2)">0.078</text><text transform="translate(106.23 361.66) skewY(0.2)">0.11</text><text transform="translate(120.29 361.66) skewY(0.2)">0.069</text><text transform="translate(134.34 361.66) skewY(0.2)">0.079</text><text transform="translate(148.40 361.66) skewY(0.2)">0.041</text><text transform="translate(162.46 361.66) skewY(0.2)">0.047</text><text transform="translate(176.51 361.66) skewY(0.2)">0.0023</text><text transform="translate(190.57 361.66) skewY(0.2)">0</text><text transform="translate(204.63 361.66) skewY(0.2)">0.066</text><text transform="translate(218.69 361.66) skewY(0.2)">0.051</text><text transform="translate(232.74 361.66) skewY(0.2)">0.066</text><text transform="translate(246.80 361.66) skewY(0.2)">0.063</text><text transform="translate(260.86 361.66) skewY(0.2)">0.044</text><text transform="translate(274.91 361.66) skewY(0.2)">0.035</text><text transform="translate(288.97 361.66) skewY(0.2)">0.053</text><text transform="translate(303.03 361.66) skewY(0.2)">0.031</text><text transform="translate(317.09 361.66) skewY(0.2)">0.027</text><text transform="translate(331.14 361.66) skewY(0.2)">0.024</text><text transform="translate(345.20 361.66) skewY(0.2)">0.031</text><text transform="translate(359.26 361.66) skewY(0.2)">0</text><text transform="translate(373.31 361.66) skewY(0.2)">0</text><text transform="translate(387.37 361.66) skewY(0.2)">0.18</text><text transform="translate(401.43 361.66) skewY(0.2)">0.17</text><text transform="translate(443.60 361.66) skewY(0.2)">0.07</text><text transform="translate(457.66 361.66) skewY(0.2)">0.085</text><text transform="translate(471.71 361.66) skewY(0.2)">0.053</text><text transform="translate(485.77 361.66) skewY(0.2)">0.038</text><text transform="translate(106.23 375.73) skewY(0.2)">0.12</text><text transform="translate(120.29 375.73) skewY(0.2)">0.073</text><text transform="translate(134.34 375.73) skewY(0.2)">0.088</text><text transform="translate(148.40 375.73) skewY(0.2)">0.043</text><text transform="translate(162.46 375.73) skewY(0.2)">0.065</text><text transform="translate(176.51 375.73) skewY(0.2)">0.023</text><text transform="translate(190.57 375.73) skewY(0.2)">0.012</text><text transform="translate(204.63 375.73) skewY(0.2)">0.061</text><text transform="translate(218.69 375.73) skewY(0.2)">0.048</text><text transform="translate(232.74 375.73) skewY(0.2)">0.065</text><text transform="translate(246.80 375.73) skewY(0.2)">0.075</text><text transform="translate(260.86 375.73) skewY(0.2)">0.06</text><text transform="translate(274.91 375.73) skewY(0.2)">0.045</text><text transform="translate(288.97 375.73) skewY(0.2)">0.06</text><text transform="translate(303.03 375.73) skewY(0.2)">0.052</text><text transform="translate(317.09 375.73) skewY(0.2)">0.036</text><text transform="translate(331.14 375.73) skewY(0.2)">0.036</text><text transform="translate(345.20 375.73) skewY(0.2)">0.036</text><text transform="translate(359.26 375.73) skewY(0.2)">0</text><text transform="translate(373.31 375.73) skewY(0.2)">0</text><text transform="translate(387.37 375.73) skewY(0.2)">0.13</text><text transform="translate(401.43 375.73) skewY(0.2)">0.11</text><text transform="translate(415.49 375.73) skewY(0.2)">0.21</text><text transform="translate(429.54 375.73) skewY(0.2)">0.18</text><text transform="translate(443.60 375.73) skewY(0.2)">0.019</text><text transform="translate(457.66 375.73) skewY(0.2)">0.06</text><text transform="translate(471.71 375.73) skewY(0.2)">0.03</text><text transform="translate(485.77 375.73) skewY(0.2)">0.014</text><text transform="translate(359.26 389.79) skewY(0.2)">0.18</text><text transform="translate(373.31 389.79) skewY(0.2)">0.13</text><text transform="translate(387.37 389.79) skewY(0.2)">0</text><text transform="translate(401.43 389.79) skewY(0.2)">0.041</text><text transform="translate(415.49 389.79) skewY(0.2)">0.061</text><text transform="translate(429.54 389.79) skewY(0.2)">0.072</text><text transform="translate(443.60 389.79) skewY(0.2)">0.16</text><text transform="translate(457.66 389.79) skewY(0.2)">0.04</text><text transform="translate(471.71 389.79) skewY(0.2)">0.072</text><text transform="translate(485.77 389.79) skewY(0.2)">0.063</text><text transform="translate(176.51 403.86) skewY(0.2)">0.21</text><text transform="translate(190.57 403.86) skewY(0.2)">0.22</text><text transform="translate(359.26 403.86) skewY(0.2)">0.17</text><text transform="translate(373.31 403.86) skewY(0.2)">0.11</text><text transform="translate(387.37 403.86) skewY(0.2)">0.041</text><text transform="translate(401.43 403.86) skewY(0.2)">0</text><text transform="translate(415.49 403.86) skewY(0.2)">0.035</text><text transform="translate(429.54 403.86) skewY(0.2)">0.017</text><text transform="translate(443.60 403.86) skewY(0.2)">0.11</text><text transform="translate(457.66 403.86) skewY(0.2)">0.077</text><text transform="translate(471.71 403.86) skewY(0.2)">0.079</text><text transform="translate(485.77 403.86) skewY(0.2)">0.073</text><text transform="translate(373.31 417.92) skewY(0.2)">0.21</text><text transform="translate(387.37 417.92) skewY(0.2)">0.061</text><text transform="translate(401.43 417.92) skewY(0.2)">0.035</text><text transform="translate(415.49 417.92) skewY(0.2)">0</text><text transform="translate(429.54 417.92) skewY(0.2)">0.018</text><text transform="translate(443.60 417.92) skewY(0.2)">0.22</text><text transform="translate(457.66 417.92) skewY(0.2)">0.14</text><text transform="translate(471.71 417.92) skewY(0.2)">0.15</text><text transform="translate(485.77 417.92) skewY(0.2)">0.14</text><text transform="translate(373.31 431.99) skewY(0.2)">0.18</text><text transform="translate(387.37 431.99) skewY(0.2)">0.072</text><text transform="translate(401.43 431.99) skewY(0.2)">0.017</text><text transform="translate(415.49 431.99) skewY(0.2)">0.018</text><text transform="translate(429.54 431.99) skewY(0.2)">0</text><text transform="translate(443.60 431.99) skewY(0.2)">0.16</text><text transform="translate(457.66 431.99) skewY(0.2)">0.14</text><text transform="translate(471.71 431.99) skewY(0.2)">0.14</text><text transform="translate(485.77 431.99) skewY(0.2)">0.12</text><text transform="translate(106.23 446.06) skewY(0.2)">0.16</text><text transform="translate(120.29 446.06) skewY(0.2)">0.12</text><text transform="translate(134.34 446.06) skewY(0.2)">0.15</text><text transform="translate(148.40 446.06) skewY(0.2)">0.085</text><text transform="translate(162.46 446.06) skewY(0.2)">0.097</text><text transform="translate(176.51 446.06) skewY(0.2)">0.07</text><text transform="translate(190.57 446.06) skewY(0.2)">0.093</text><text transform="translate(204.63 446.06) skewY(0.2)">0.1</text><text transform="translate(218.69 446.06) skewY(0.2)">0.093</text><text transform="translate(232.74 446.06) skewY(0.2)">0.1</text><text transform="translate(246.80 446.06) skewY(0.2)">0.15</text><text transform="translate(260.86 446.06) skewY(0.2)">0.12</text><text transform="translate(274.91 446.06) skewY(0.2)">0.1</text><text transform="translate(288.97 446.06) skewY(0.2)">0.11</text><text transform="translate(303.03 446.06) skewY(0.2)">0.12</text><text transform="translate(317.09 446.06) skewY(0.2)">0.095</text><text transform="translate(331.14 446.06) skewY(0.2)">0.095</text><text transform="translate(345.20 446.06) skewY(0.2)">0.095</text><text transform="translate(359.26 446.06) skewY(0.2)">0.07</text><text transform="translate(373.31 446.06) skewY(0.2)">0.019</text><text transform="translate(387.37 446.06) skewY(0.2)">0.16</text><text transform="translate(401.43 446.06) skewY(0.2)">0.11</text><text transform="translate(415.49 446.06) skewY(0.2)">0.22</text><text transform="translate(429.54 446.06) skewY(0.2)">0.16</text><text transform="translate(443.60 446.06) skewY(0.2)">0</text><text transform="translate(457.66 446.06) skewY(0.2)">0.11</text><text transform="translate(471.71 446.06) skewY(0.2)">0.072</text><text transform="translate(485.77 446.06) skewY(0.2)">0.044</text><text transform="translate(120.29 460.12) skewY(0.2)">0.2</text><text transform="translate(134.34 460.12) skewY(0.2)">0.23</text><text transform="translate(148.40 460.12) skewY(0.2)">0.16</text><text transform="translate(162.46 460.12) skewY(0.2)">0.19</text><text transform="translate(176.51 460.12) skewY(0.2)">0.13</text><text transform="translate(190.57 460.12) skewY(0.2)">0.14</text><text transform="translate(204.63 460.12) skewY(0.2)">0.19</text><text transform="translate(218.69 460.12) skewY(0.2)">0.18</text><text transform="translate(232.74 460.12) skewY(0.2)">0.2</text><text transform="translate(260.86 460.12) skewY(0.2)">0.21</text><text transform="translate(274.91 460.12) skewY(0.2)">0.19</text><text transform="translate(288.97 460.12) skewY(0.2)">0.19</text><text transform="translate(303.03 460.12) skewY(0.2)">0.2</text><text transform="translate(317.09 460.12) skewY(0.2)">0.15</text><text transform="translate(331.14 460.12) skewY(0.2)">0.16</text><text transform="translate(345.20 460.12) skewY(0.2)">0.17</text><text transform="translate(359.26 460.12) skewY(0.2)">0.085</text><text transform="translate(373.31 460.12) skewY(0.2)">0.06</text><text transform="translate(387.37 460.12) skewY(0.2)">0.04</text><text transform="translate(401.43 460.12) skewY(0.2)">0.077</text><text transform="translate(415.49 460.12) skewY(0.2)">0.14</text><text transform="translate(429.54 460.12) skewY(0.2)">0.14</text><text transform="translate(443.60 460.12) skewY(0.2)">0.11</text><text transform="translate(457.66 460.12) skewY(0.2)">0</text><text transform="translate(471.71 460.12) skewY(0.2)">0.016</text><text transform="translate(485.77 460.12) skewY(0.2)">0.024</text><text transform="translate(106.23 474.19) skewY(0.2)">0.19</text><text transform="translate(120.29 474.19) skewY(0.2)">0.14</text><text transform="translate(134.34 474.19) skewY(0.2)">0.15</text><text transform="translate(148.40 474.19) skewY(0.2)">0.11</text><text transform="translate(162.46 474.19) skewY(0.2)">0.13</text><text transform="translate(176.51 474.19) skewY(0.2)">0.079</text><text transform="translate(190.57 474.19) skewY(0.2)">0.086</text><text transform="translate(204.63 474.19) skewY(0.2)">0.13</text><text transform="translate(218.69 474.19) skewY(0.2)">0.12</text><text transform="translate(232.74 474.19) skewY(0.2)">0.13</text><text transform="translate(246.80 474.19) skewY(0.2)">0.17</text><text transform="translate(260.86 474.19) skewY(0.2)">0.14</text><text transform="translate(274.91 474.19) skewY(0.2)">0.12</text><text transform="translate(288.97 474.19) skewY(0.2)">0.12</text><text transform="translate(303.03 474.19) skewY(0.2)">0.13</text><text transform="translate(317.09 474.19) skewY(0.2)">0.096</text><text transform="translate(331.14 474.19) skewY(0.2)">0.1</text><text transform="translate(345.20 474.19) skewY(0.2)">0.11</text><text transform="translate(359.26 474.19) skewY(0.2)">0.053</text><text transform="translate(373.31 474.19) skewY(0.2)">0.03</text><text transform="translate(387.37 474.19) skewY(0.2)">0.072</text><text transform="translate(401.43 474.19) skewY(0.2)">0.079</text><text transform="translate(415.49 474.19) skewY(0.2)">0.15</text><text transform="translate(429.54 474.19) skewY(0.2)">0.14</text><text transform="translate(443.60 474.19) skewY(0.2)">0.072</text><text transform="translate(457.66 474.19) skewY(0.2)">0.016</text><text transform="translate(471.71 474.19) skewY(0.2)">0</text><text transform="translate(485.77 474.19) skewY(0.2)">0.012</text><text transform="translate(106.23 488.25) skewY(0.2)">0.14</text><text transform="translate(120.29 488.25) skewY(0.2)">0.1</text><text transform="translate(134.34 488.25) skewY(0.2)">0.12</text><text transform="translate(148.40 488.25) skewY(0.2)">0.088</text><text transform="translate(162.46 488.25) skewY(0.2)">0.1</text><text transform="translate(176.51 488.25) skewY(0.2)">0.055</text><text transform="translate(190.57 488.25) skewY(0.2)">0.061</text><text transform="translate(204.63 488.25) skewY(0.2)">0.099</text><text transform="translate(218.69 488.25) skewY(0.2)">0.09</text><text transform="translate(232.74 488.25) skewY(0.2)">0.098</text><text transform="translate(246.80 488.25) skewY(0.2)">0.11</text><text transform="translate(260.86 488.25) skewY(0.2)">0.097</text><text transform="translate(274.91 488.25) skewY(0.2)">0.094</text><text transform="translate(288.97 488.25) skewY(0.2)">0.091</text><text transform="translate(303.03 488.25) skewY(0.2)">0.097</text><text transform="translate(317.09 488.25) skewY(0.2)">0.069</text><text transform="translate(331.14 488.25) skewY(0.2)">0.075</text><text transform="translate(345.20 488.25) skewY(0.2)">0.078</text><text transform="translate(359.26 488.25) skewY(0.2)">0.038</text><text transform="translate(373.31 488.25) skewY(0.2)">0.014</text><text transform="translate(387.37 488.25) skewY(0.2)">0.063</text><text transform="translate(401.43 488.25) skewY(0.2)">0.073</text><text transform="translate(415.49 488.25) skewY(0.2)">0.14</text><text transform="translate(429.54 488.25) skewY(0.2)">0.12</text><text transform="translate(443.60 488.25) skewY(0.2)">0.044</text><text transform="translate(457.66 488.25) skewY(0.2)">0.024</text><text transform="translate(471.71 488.25) skewY(0.2)">0.012</text><text transform="translate(485.77 488.25) skewY(0.2)">0</text></g>
<g font-size="2.40px" text-anchor="middle" fill="#262626" fill-opacity="0.85"><text transform="translate(387.37 108.47) skewY(0.2)">0.43</text><text transform="translate(401.43 108.47) skewY(0.2)">0.37</text><text transform="translate(415.49 108.47) skewY(0.2)">0.56</text><text transform="translate(429.54 108.47) skewY(0.2)">0.5</text><text transform="translate(457.66 108.47) skewY(0.2)">0.27</text><text transform="translate(387.37 122.54) skewY(0.2)">0.35</text><text transform="translate(401.43 122.54) skewY(0.2)">0.29</text><text transform="translate(415.49 122.54) skewY(0.2)">0.43</text><text transform="translate(429.54 122.54) skewY(0.2)">0.4</text><text transform="translate(387.37 136.60) skewY(0.2)">0.38</text><text transform="translate(401.43 136.60) skewY(0.2)">0.32</text><text transform="translate(415.49 136.60) skewY(0.2)">0.45</text><text transform="translate(429.54 136.60) skewY(0.2)">0.43</text><text transform="translate(387.37 150.67) skewY(0.2)">0.27</text><text transform="translate(401.43 150.67) skewY(0.2)">0.23</text><text transform="translate(415.49 150.67) skewY(0.2)">0.39</text><text transform="translate(429.54 150.67) skewY(0.2)">0.36</text><text transform="translate(387.37 164.73) skewY(0.2)">0.31</text><text transform="translate(401.43 164.73) skewY(0.2)">0.27</text><text transform="translate(415.49 164.73) skewY(0.2)">0.42</text><text transform="translate(429.54 164.73) skewY(0.2)">0.38</text><text transform="translate(387.37 178.80) skewY(0.2)">0.24</text><text transform="translate(415.49 178.80) skewY(0.2)">0.36</text><text transform="translate(429.54 178.80) skewY(0.2)">0.31</text><text transform="translate(387.37 192.87) skewY(0.2)">0.27</text><text transform="translate(415.49 192.87) skewY(0.2)">0.4</text><text transform="translate(429.54 192.87) skewY(0.2)">0.35</text><text transform="translate(387.37 206.93) skewY(0.2)">0.33</text><text transform="translate(401.43 206.93) skewY(0.2)">0.28</text><text transform="translate(415.49 206.93) skewY(0.2)">0.45</text><text transform="translate(429.54 206.93) skewY(0.2)">0.41</text><text transform="translate(387.37 221.00) skewY(0.2)">0.35</text><text transform="translate(401.43 221.00) skewY(0.2)">0.28</text><text transform="translate(415.49 221.00) skewY(0.2)">0.44</text><text transform="translate(429.54 221.00) skewY(0.2)">0.38</text><text transform="translate(387.37 235.06) skewY(0.2)">0.35</text><text transform="translate(401.43 235.06) skewY(0.2)">0.3</text><text transform="translate(415.49 235.06) skewY(0.2)">0.46</text><text transform="translate(429.54 235.06) skewY(0.2)">0.41</text><text transform="translate(387.37 249.13) skewY(0.2)">0.36</text><text transform="translate(401.43 249.13) skewY(0.2)">0.34</text><text transform="translate(415.49 249.13) skewY(0.2)">0.52</text><text transform="translate(429.54 249.13) skewY(0.2)">0.47</text><text transform="translate(457.66 249.13) skewY(0.2)">0.24</text><text transform="translate(387.37 263.20) skewY(0.2)">0.33</text><text transform="translate(401.43 263.20) skewY(0.2)">0.31</text><text transform="translate(415.49 263.20) skewY(0.2)">0.46</text><text transform="translate(429.54 263.20) skewY(0.2)">0.42</text><text transform="translate(387.37 277.26) skewY(0.2)">0.31</text><text transform="translate(401.43 277.26) skewY(0.2)">0.28</text><text transform="translate(415.49 277.26) skewY(0.2)">0.43</text><text transform="translate(429.54 277.26) skewY(0.2)">0.38</text><text transform="translate(387.37 291.33) skewY(0.2)">0.32</text><text transform="translate(401.43 291.33) skewY(0.2)">0.28</text><text transform="translate(415.49 291.33) skewY(0.2)">0.43</text><text transform="translate(429.54 291.33) skewY(0.2)">0.39</text><text transform="translate(387.37 305.40) skewY(0.2)">0.3</text><text transform="translate(401.43 305.40) skewY(0.2)">0.29</text><text transform="translate(415.49 305.40) skewY(0.2)">0.44</text><text transform="translate(429.54 305.40) skewY(0.2)">0.41</text><text transform="translate(387.37 319.46) skewY(0.2)">0.26</text><text transform="translate(401.43 319.46) skewY(0.2)">0.24</text><text transform="translate(415.49 319.46) skewY(0.2)">0.39</text><text transform="translate(429.54 319.46) skewY(0.2)">0.36</text><text transform="translate(387.37 333.53) skewY(0.2)">0.28</text><text transform="translate(401.43 333.53) skewY(0.2)">0.25</text><text transform="translate(415.49 333.53) skewY(0.2)">0.41</text><text transform="translate(429.54 333.53) skewY(0.2)">0.38</text><text transform="translate(387.37 347.59) skewY(0.2)">0.29</text><text transform="translate(401.43 347.59) skewY(0.2)">0.26</text><text transform="translate(415.49 347.59) skewY(0.2)">0.41</text><text transform="translate(429.54 347.59) skewY(0.2)">0.38</text><text transform="translate(415.49 361.66) skewY(0.2)">0.31</text><text transform="translate(429.54 361.66) skewY(0.2)">0.27</text><text transform="translate(106.23 389.79) skewY(0.2)">0.43</text><text transform="translate(120.29 389.79) skewY(0.2)">0.35</text><text transform="translate(134.34 389.79) skewY(0.2)">0.38</text><text transform="translate(148.40 389.79) skewY(0.2)">0.27</text><text transform="translate(162.46 389.79) skewY(0.2)">0.31</text><text transform="translate(176.51 389.79) skewY(0.2)">0.24</text><text transform="translate(190.57 389.79) skewY(0.2)">0.27</text><text transform="translate(204.63 389.79) skewY(0.2)">0.33</text><text transform="translate(218.69 389.79) skewY(0.2)">0.35</text><text transform="translate(232.74 389.79) skewY(0.2)">0.35</text><text transform="translate(246.80 389.79) skewY(0.2)">0.36</text><text transform="translate(260.86 389.79) skewY(0.2)">0.33</text><text transform="translate(274.91 389.79) skewY(0.2)">0.31</text><text transform="translate(288.97 389.79) skewY(0.2)">0.32</text><text transform="translate(303.03 389.79) skewY(0.2)">0.3</text><text transform="translate(317.09 389.79) skewY(0.2)">0.26</text><text transform="translate(331.14 389.79) skewY(0.2)">0.28</text><text transform="translate(345.20 389.79) skewY(0.2)">0.29</text><text transform="translate(106.23 403.86) skewY(0.2)">0.37</text><text transform="translate(120.29 403.86) skewY(0.2)">0.29</text><text transform="translate(134.34 403.86) skewY(0.2)">0.32</text><text transform="translate(148.40 403.86) skewY(0.2)">0.23</text><text transform="translate(162.46 403.86) skewY(0.2)">0.27</text><text transform="translate(204.63 403.86) skewY(0.2)">0.28</text><text transform="translate(218.69 403.86) skewY(0.2)">0.28</text><text transform="translate(232.74 403.86) skewY(0.2)">0.3</text><text transform="translate(246.80 403.86) skewY(0.2)">0.34</text><text transform="translate(260.86 403.86) skewY(0.2)">0.31</text><text transform="translate(274.91 403.86) skewY(0.2)">0.28</text><text transform="translate(288.97 403.86) skewY(0.2)">0.28</text><text transform="translate(303.03 403.86) skewY(0.2)">0.29</text><text transform="translate(317.09 403.86) skewY(0.2)">0.24</text><text transform="translate(331.14 403.86) skewY(0.2)">0.25</text><text transform="translate(345.20 403.86) skewY(0.2)">0.26</text><text transform="translate(106.23 417.92) skewY(0.2)">0.56</text><text transform="translate(120.29 417.92) skewY(0.2)">0.43</text><text transform="translate(134.34 417.92) skewY(0.2)">0.45</text><text transform="translate(148.40 417.92) skewY(0.2)">0.39</text><text transform="translate(162.46 417.92) skewY(0.2)">0.42</text><text transform="translate(176.51 417.92) skewY(0.2)">0.36</text><text transform="translate(190.57 417.92) skewY(0.2)">0.4</text><text transform="translate(204.63 417.92) skewY(0.2)">0.45</text><text transform="translate(218.69 417.92) skewY(0.2)">0.44</text><text transform="translate(232.74 417.92) skewY(0.2)">0.46</text><text transform="translate(246.80 417.92) skewY(0.2)">0.52</text><text transform="translate(260.86 417.92) skewY(0.2)">0.46</text><text transform="translate(274.91 417.92) skewY(0.2)">0.43</text><text transform="translate(288.97 417.92) skewY(0.2)">0.43</text><text transform="translate(303.03 417.92) skewY(0.2)">0.44</text><text transform="translate(317.09 417.92) skewY(0.2)">0.39</text><text transform="translate(331.14 417.92) skewY(0.2)">0.41</text><text transform="translate(345.20 417.92) skewY(0.2)">0.41</text><text transform="translate(359.26 417.92) skewY(0.2)">0.31</text><text transform="translate(106.23 431.99) skewY(0.2)">0.5</text><text transform="translate(120.29 431.99) skewY(0.2)">0.4</text><text transform="translate(134.34 431.99) skewY(0.2)">0.43</text><text transform="translate(148.40 431.99) skewY(0.2)">0.36</text><text transform="translate(162.46 431.99) skewY(0.2)">0.38</text><text transform="translate(176.51 431.99) skewY(0.2)">0.31</text><text transform="translate(190.57 431.99) skewY(0.2)">0.35</text><text transform="translate(204.63 431.99) skewY(0.2)">0.41</text><text transform="translate(218.69 431.99) skewY(0.2)">0.38</text><text transform="translate(232.74 431.99) skewY(0.2)">0.41</text><text transform="translate(246.80 431.99) skewY(0.2)">0.47</text><text transform="translate(260.86 431.99) skewY(0.2)">0.42</text><text transform="translate(274.91 431.99) skewY(0.2)">0.38</text><text transform="translate(288.97 431.99) skewY(0.2)">0.39</text><text transform="translate(303.03 431.99) skewY(0.2)">0.41</text><text transform="translate(317.09 431.99) skewY(0.2)">0.36</text><text transform="translate(331.14 431.99) skewY(0.2)">0.38</text><text transform="translate(345.20 431.99) skewY(0.2)">0.38</text><text transform="translate(359.26 431.99) skewY(0.2)">0.27</text><text transform="translate(106.23 460.12) skewY(0.2)">0.27</text><text transform="translate(246.80 460.12) skewY(0.2)">0.24</text></g>
<g stroke="#262626" stroke-width="1.0" fill="none">
<path d="M492.80 107.86H497.90"/>
<path d="M492.80 121.93H497.90"/>
<path d="M492.80 136.00H497.90"/>
<path d="M492.80 150.06H497.90"/>
<path d="M492.80 164.13H497.90"/>
<path d="M492.80 178.19H497.90"/>
<path d="M492.80 192.26H497.90"/>
<path d="M492.80 206.33H497.90"/>
<path d="M492.80 220.39H497.90"/>
<path d="M492.80 234.46H497.90"/>
<path d="M492.80 248.52H497.90"/>
<path d="M492.80 262.59H497.90"/>
<path d="M492.80 276.66H497.90"/>
<path d="M492.80 290.72H497.90"/>
<path d="M492.80 304.79H497.90"/>
<path d="M492.80 318.85H497.90"/>
<path d="M492.80 332.92H497.90"/>
<path d="M492.80 346.99H497.90"/>
<path d="M492.80 361.05H497.90"/>
<path d="M492.80 375.12H497.90"/>
<path d="M492.80 389.18H497.90"/>
<path d="M492.80 403.25H497.90"/>
<path d="M492.80 417.32H497.90"/>
<path d="M492.80 431.38H497.90"/>
<path d="M492.80 445.45H497.90"/>
<path d="M492.80 459.51H497.90"/>
<path d="M492.80 473.58H497.90"/>
<path d="M492.80 487.65H497.90"/>
</g>
<g font-size="6.10px" fill="#262626" stroke="#262626" stroke-width="0.15">
<text transform="translate(500.80 110.05) skewY(0.2)">SERB</text>
<text transform="translate(500.80 124.11) skewY(0.2)">Conq_KL6</text>
<text transform="translate(500.80 138.18) skewY(0.2)">Székely</text>
<text transform="translate(500.80 152.25) skewY(0.2)">Conq_KL4</text>
<text transform="translate(500.80 166.31) skewY(0.2)">Conq_KL5</text>
<text transform="translate(500.80 180.38) skewY(0.2)">TAT</text>
<text transform="translate(500.80 194.44) skewY(0.2)">Tankajevka</text>
<text transform="translate(500.80 208.51) skewY(0.2)">IRE</text>
<text transform="translate(500.80 222.58) skewY(0.2)">GER</text>
<text transform="translate(500.80 236.64) skewY(0.2)">ENG</text>
<text transform="translate(500.80 250.71) skewY(0.2)">RUS</text>
<text transform="translate(500.80 264.77) skewY(0.2)">HUNGARIAN</text>
<text transform="translate(500.80 278.84) skewY(0.2)">POL</text>
<text transform="translate(500.80 292.91) skewY(0.2)">FIN</text>
<text transform="translate(500.80 306.97) skewY(0.2)">ARM</text>
<text transform="translate(500.80 321.04) skewY(0.2)">IRN</text>
<text transform="translate(500.80 335.10) skewY(0.2)">AZE</text>
<text transform="translate(500.80 349.17) skewY(0.2)">TUR</text>
<text transform="translate(500.80 363.24) skewY(0.2)">Bolshie Tigani</text>
<text transform="translate(500.80 377.30) skewY(0.2)">Chiyal</text>
<text transform="translate(500.80 391.37) skewY(0.2)">T-BAJK_BUR</text>
<text transform="translate(500.80 405.43) skewY(0.2)">E-SIB_YAKUT</text>
<text transform="translate(500.80 419.50) skewY(0.2)">E-SIB_EVEN</text>
<text transform="translate(500.80 433.57) skewY(0.2)">E-SIB_EVENK</text>
<text transform="translate(500.80 447.63) skewY(0.2)">Uy-Kar</text>
<text transform="translate(500.80 461.70) skewY(0.2)">JAP</text>
<text transform="translate(500.80 475.76) skewY(0.2)">CHIN</text>
<text transform="translate(500.80 489.83) skewY(0.2)">NW-CHIN_UYG</text>
</g>
<g font-size="6.10px" fill="#262626" stroke="#262626" stroke-width="0.15" text-anchor="end">
<text transform="translate(108.41 503.20) rotate(-90)">SERB</text>
<text transform="translate(122.47 504.40) rotate(-90)">Conq_KL6</text>
<text transform="translate(136.53 504.40) rotate(-90)">Székely</text>
<text transform="translate(150.58 504.40) rotate(-90)">Conq_KL4</text>
<text transform="translate(164.64 504.40) rotate(-90)">Conq_KL5</text>
<text transform="translate(178.70 503.20) rotate(-90)">TAT</text>
<text transform="translate(192.76 504.40) rotate(-90)">Tankajevka</text>
<text transform="translate(206.81 503.20) rotate(-90)">IRE</text>
<text transform="translate(220.87 503.20) rotate(-90)">GER</text>
<text transform="translate(234.93 503.20) rotate(-90)">ENG</text>
<text transform="translate(248.98 503.20) rotate(-90)">RUS</text>
<text transform="translate(263.04 503.20) rotate(-90)">HUNGARIAN</text>
<text transform="translate(277.10 503.20) rotate(-90)">POL</text>
<text transform="translate(291.16 503.20) rotate(-90)">FIN</text>
<text transform="translate(305.21 503.20) rotate(-90)">ARM</text>
<text transform="translate(319.27 503.20) rotate(-90)">IRN</text>
<text transform="translate(333.33 503.20) rotate(-90)">AZE</text>
<text transform="translate(347.38 503.20) rotate(-90)">TUR</text>
<text transform="translate(361.44 504.40) rotate(-90)">Bolshie Tigani</text>
<text transform="translate(375.50 504.40) rotate(-90)">Chiyal</text>
<text transform="translate(389.56 503.20) rotate(-90)">T-BAJK_BUR</text>
<text transform="translate(403.61 503.20) rotate(-90)">E-SIB_YAKUT</text>
<text transform="translate(417.67 503.20) rotate(-90)">E-SIB_EVEN</text>
<text transform="translate(431.73 503.20) rotate(-90)">E-SIB_EVENK</text>
<text transform="translate(445.78 504.40) rotate(-90)">Uy-Kar</text>
<text transform="translate(459.84 503.20) rotate(-90)">JAP</text>
<text transform="translate(473.90 503.20) rotate(-90)">CHIN</text>
<text transform="translate(487.96 503.20) rotate(-90)">NW-CHIN_UYG</text>
</g>
<g stroke="#4d4d4d" stroke-width="0.65" fill="none" stroke-linejoin="miter">
<path d="M359.86 100.83V97.40H373.91V100.83"/>
<path d="M99.58 361.24H96.15V375.29H99.58"/>
<path d="M176.68 98.00V85.00H366.89V97.40"/>
<path d="M96.75 178.06H83.75V368.27H96.15"/>
<path d="M458.26 100.83V92.60H479.34V99.70"/>
<path d="M99.58 459.64H91.35V480.72H98.45"/>
<path d="M444.20 100.83V72.10H468.80V92.60"/>
<path d="M99.58 445.58H70.85V470.18H91.35"/>
<path d="M400.27 98.90V52.20H456.50V72.10"/>
<path d="M97.65 401.65H51.70V457.88H70.85"/>
<path d="M271.78 85.00V6.80H428.39V52.20"/>
<path d="M83.75 273.16H5.55V429.77H51.70"/>
</g>
<g stroke="#777" stroke-width="0.55" fill="none">
<path d="M136.70 99.40V98.00H216.65V99.50"/>
<path d="M98.15 138.08H96.75V218.03H98.25"/>
<path d="M387.97 100.83V98.90H412.57V100.00"/>
<path d="M99.58 389.35H97.65V413.95H98.75"/>
</g>
<g stroke="#4d4d4d" stroke-width="0.4" fill="none" opacity="0.7">
<path d="M120.89 100.83V100.40H134.94V100.83"/>
<path d="M99.58 122.27H99.15V136.32H99.58"/>
<path d="M106.83 100.83V100.00H127.91V100.40"/>
<path d="M99.58 108.21H98.75V129.29H99.15"/>
<path d="M149.00 100.83V100.10H163.06V100.83"/>
<path d="M99.58 150.38H98.85V164.44H99.58"/>
<path d="M117.37 100.00V99.40H156.03V100.10"/>
<path d="M98.75 118.75H98.15V157.41H98.85"/>
<path d="M177.11 100.83V100.30H191.17V100.83"/>
<path d="M99.58 178.49H99.05V192.55H99.58"/>
<path d="M219.29 100.83V100.50H233.34V100.83"/>
<path d="M99.58 220.67H99.25V234.72H99.58"/>
<path d="M205.23 100.83V100.10H226.31V100.50"/>
<path d="M99.58 206.61H98.85V227.69H99.25"/>
<path d="M261.46 100.83V100.50H275.51V100.83"/>
<path d="M99.58 262.84H99.25V276.89H99.58"/>
<path d="M247.40 100.83V100.20H268.49V100.50"/>
<path d="M99.58 248.78H98.95V269.87H99.25"/>
<path d="M303.63 100.83V100.50H317.69V100.83"/>
<path d="M99.58 305.01H99.25V319.07H99.58"/>
<path d="M331.74 100.83V100.50H345.80V100.83"/>
<path d="M99.58 333.12H99.25V347.18H99.58"/>
<path d="M310.66 100.50V100.30H338.77V100.50"/>
<path d="M99.25 312.04H99.05V340.15H99.25"/>
<path d="M289.57 100.83V100.10H324.71V100.30"/>
<path d="M99.58 290.95H98.85V326.09H99.05"/>
<path d="M257.94 100.20V99.90H307.14V100.10"/>
<path d="M98.95 259.32H98.65V308.52H98.85"/>
<path d="M215.77 100.10V99.70H282.54V99.90"/>
<path d="M98.85 217.15H98.45V283.92H98.65"/>
<path d="M184.14 100.30V99.50H249.16V99.70"/>
<path d="M99.05 185.52H98.25V250.54H98.45"/>
<path d="M416.09 100.83V100.30H430.14V100.83"/>
<path d="M99.58 417.47H99.05V431.52H99.58"/>
<path d="M402.03 100.83V100.00H423.11V100.30"/>
<path d="M99.58 403.41H98.75V424.49H99.05"/>
<path d="M472.31 100.83V99.70H486.37V100.83"/>
<path d="M99.58 473.69H98.45V487.75H99.58"/>
</g>
</svg></body></html>
